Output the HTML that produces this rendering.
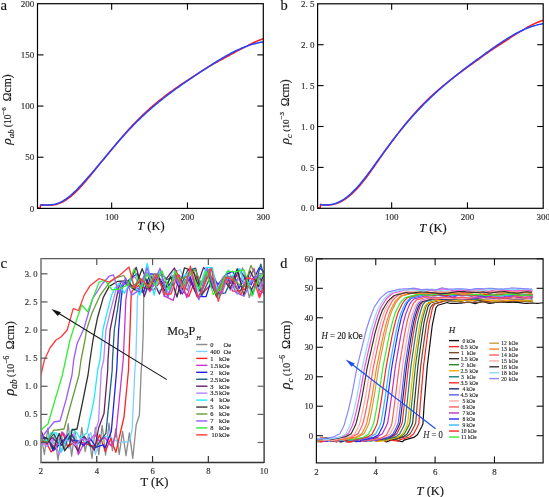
<!DOCTYPE html>
<html><head><meta charset="utf-8"><style>
html,body{margin:0;padding:0;background:#fff;width:549px;height:497px;overflow:hidden}
svg{display:block;will-change:transform}
text{stroke:#333;stroke-width:0.18px}
</style></head><body>
<svg width="549" height="497" viewBox="0 0 549 497">
<polyline points="37.5,208 40.2,208 40.5,204.95 40.5,205.02 41.5,205.07 42.5,205.11 43.5,205.14 44.5,205.17 45.5,205.2 46.5,205.21 47.5,205.21 48.5,205.19 49.5,205.16 50.5,205.1 51.5,205.02 52.5,204.92 53.5,204.79 54.5,204.64 55.5,204.45 56.5,204.22 57.5,203.96 58.5,203.65 59.5,203.31 60.5,202.92 61.5,202.48 62.5,202 63.5,201.47 64.5,200.9 65.5,200.3 66.5,199.65 67.5,198.96 68.5,198.23 69.5,197.47 70.5,196.67 71.5,195.84 72.5,194.97 73.5,194.08 74.5,193.15 75.5,192.19 76.5,191.21 77.5,190.2 78.5,189.16 79.5,188.11 80.5,187.03 81.5,185.93 82.5,184.82 83.5,183.69 84.5,182.54 85.5,181.39 86.5,180.22 87.5,179.04 88.5,177.85 89.5,176.66 90.5,175.45 91.5,174.24 92.5,173.02 93.5,171.8 94.5,170.57 95.5,169.33 96.5,168.1 97.5,166.86 98.5,165.62 99.5,164.38 100.5,163.13 101.5,161.89 102.5,160.65 103.5,159.41 104.5,158.17 105.5,156.93 106.5,155.7 107.5,154.46 108.5,153.23 109.5,152.01 110.5,150.78 111.5,149.56 112.5,148.35 113.5,147.14 114.5,145.93 115.5,144.73 116.5,143.54 117.5,142.34 118.5,141.16 119.5,139.98 120.5,138.81 121.5,137.64 122.5,136.49 123.5,135.34 124.5,134.19 125.5,133.06 126.5,131.93 127.5,130.82 128.5,129.71 129.5,128.61 130.5,127.53 131.5,126.45 132.5,125.38 133.5,124.33 134.5,123.28 135.5,122.25 136.5,121.23 137.5,120.21 138.5,119.21 139.5,118.21 140.5,117.23 141.5,116.26 142.5,115.29 143.5,114.34 144.5,113.39 145.5,112.46 146.5,111.54 147.5,110.62 148.5,109.72 149.5,108.82 150.5,107.93 151.5,107.06 152.5,106.19 153.5,105.33 154.5,104.48 155.5,103.64 156.5,102.81 157.5,101.99 158.5,101.17 159.5,100.36 160.5,99.57 161.5,98.78 162.5,97.99 163.5,97.22 164.5,96.45 165.5,95.69 166.5,94.93 167.5,94.19 168.5,93.44 169.5,92.71 170.5,91.98 171.5,91.26 172.5,90.54 173.5,89.83 174.5,89.12 175.5,88.42 176.5,87.72 177.5,87.03 178.5,86.34 179.5,85.65 180.5,84.97 181.5,84.29 182.5,83.62 183.5,82.94 184.5,82.28 185.5,81.61 186.5,80.94 187.5,80.28 188.5,79.62 189.5,78.96 190.5,78.31 191.5,77.65 192.5,77 193.5,76.35 194.5,75.7 195.5,75.06 196.5,74.41 197.5,73.77 198.5,73.12 199.5,72.48 200.5,71.85 201.5,71.21 202.5,70.58 203.5,69.95 204.5,69.33 205.5,68.71 206.5,68.09 207.5,67.48 208.5,66.88 209.5,66.28 210.5,65.69 211.5,65.11 212.5,64.53 213.5,63.96 214.5,63.4 215.5,62.84 216.5,62.29 217.5,61.74 218.5,61.2 219.5,60.65 220.5,60.11 221.5,59.58 222.5,59.04 223.5,58.5 224.5,57.96 225.5,57.42 226.5,56.87 227.5,56.33 228.5,55.78 229.5,55.23 230.5,54.68 231.5,54.13 232.5,53.58 233.5,53.03 234.5,52.48 235.5,51.93 236.5,51.4 237.5,50.86 238.5,50.34 239.5,49.82 240.5,49.32 241.5,48.82 242.5,48.34 243.5,47.87 244.5,47.42 245.5,46.92 246.5,46.35 247.5,45.79 248.5,45.24 249.5,44.7 250.5,44.18 251.5,43.67 252.5,43.17 253.5,42.68 254.5,42.21 255.5,41.76 256.5,41.32 257.5,40.89 258.5,40.48 259.5,40.09 260.5,39.71 261.5,39.34 262.5,38.99 263.1,38.79" fill="none" stroke="#ff1414" stroke-width="1.5" stroke-linejoin="round" />
<polyline points="40.5,204.65 40.5,204.95 41.5,204.98 42.5,205.01 43.5,205.03 44.5,205.05 45.5,205.05 46.5,205.04 47.5,205.02 48.5,204.97 49.5,204.91 50.5,204.83 51.5,204.72 52.5,204.58 53.5,204.42 54.5,204.22 55.5,203.99 56.5,203.72 57.5,203.41 58.5,203.06 59.5,202.67 60.5,202.23 61.5,201.74 62.5,201.21 63.5,200.63 64.5,200.01 65.5,199.36 66.5,198.66 67.5,197.92 68.5,197.15 69.5,196.35 70.5,195.52 71.5,194.65 72.5,193.76 73.5,192.83 74.5,191.89 75.5,190.92 76.5,189.92 77.5,188.91 78.5,187.87 79.5,186.82 80.5,185.76 81.5,184.68 82.5,183.59 83.5,182.48 84.5,181.37 85.5,180.25 86.5,179.12 87.5,177.99 88.5,176.85 89.5,175.7 90.5,174.55 91.5,173.39 92.5,172.22 93.5,171.05 94.5,169.88 95.5,168.7 96.5,167.52 97.5,166.34 98.5,165.15 99.5,163.96 100.5,162.77 101.5,161.58 102.5,160.39 103.5,159.2 104.5,158 105.5,156.81 106.5,155.61 107.5,154.42 108.5,153.23 109.5,152.04 110.5,150.86 111.5,149.67 112.5,148.49 113.5,147.31 114.5,146.14 115.5,144.97 116.5,143.8 117.5,142.64 118.5,141.49 119.5,140.34 120.5,139.19 121.5,138.06 122.5,136.93 123.5,135.81 124.5,134.69 125.5,133.59 126.5,132.49 127.5,131.4 128.5,130.32 129.5,129.25 130.5,128.2 131.5,127.15 132.5,126.11 133.5,125.08 134.5,124.06 135.5,123.05 136.5,122.06 137.5,121.07 138.5,120.09 139.5,119.12 140.5,118.16 141.5,117.2 142.5,116.26 143.5,115.33 144.5,114.4 145.5,113.48 146.5,112.57 147.5,111.67 148.5,110.78 149.5,109.89 150.5,109.02 151.5,108.15 152.5,107.28 153.5,106.43 154.5,105.58 155.5,104.74 156.5,103.91 157.5,103.08 158.5,102.26 159.5,101.45 160.5,100.64 161.5,99.84 162.5,99.04 163.5,98.25 164.5,97.47 165.5,96.69 166.5,95.92 167.5,95.15 168.5,94.39 169.5,93.64 170.5,92.89 171.5,92.14 172.5,91.4 173.5,90.66 174.5,89.93 175.5,89.2 176.5,88.48 177.5,87.75 178.5,87.04 179.5,86.33 180.5,85.62 181.5,84.91 182.5,84.21 183.5,83.51 184.5,82.82 185.5,82.12 186.5,81.43 187.5,80.74 188.5,80.06 189.5,79.38 190.5,78.7 191.5,78.02 192.5,77.34 193.5,76.67 194.5,76 195.5,75.32 196.5,74.65 197.5,73.99 198.5,73.32 199.5,72.65 200.5,71.99 201.5,71.32 202.5,70.66 203.5,70 204.5,69.34 205.5,68.68 206.5,68.02 207.5,67.37 208.5,66.71 209.5,66.07 210.5,65.42 211.5,64.78 212.5,64.14 213.5,63.5 214.5,62.87 215.5,62.25 216.5,61.62 217.5,61.01 218.5,60.39 219.5,59.79 220.5,59.18 221.5,58.59 222.5,58 223.5,57.41 224.5,56.84 225.5,56.27 226.5,55.7 227.5,55.15 228.5,54.6 229.5,54.05 230.5,53.52 231.5,52.99 232.5,52.48 233.5,51.97 234.5,51.47 235.5,50.98 236.5,50.5 237.5,50.02 238.5,49.56 239.5,49.11 240.5,48.67 241.5,48.23 242.5,47.81 243.5,47.4 244.5,47.01 245.5,46.62 246.5,46.24 247.5,45.88 248.5,45.53 249.5,45.19 250.5,44.86 251.5,44.55 252.5,44.25 253.5,43.96 254.5,43.69 255.5,43.43 256.5,43.19 257.5,42.96 258.5,42.74 259.5,42.54 260.5,42.35 261.5,42.18 262.5,42.03 263.1,41.94" fill="none" stroke="#2244ff" stroke-width="1.5" stroke-linejoin="round" />
<polyline points="317.6,207.9 320.2,207.9 320.5,204.51 320.5,204.57 321.5,204.74 322.5,204.87 323.5,204.98 324.5,205.05 325.5,205.1 326.5,205.11 327.5,205.09 328.5,205.04 329.5,204.96 330.5,204.85 331.5,204.7 332.5,204.51 333.5,204.3 334.5,204.05 335.5,203.76 336.5,203.44 337.5,203.08 338.5,202.69 339.5,202.26 340.5,201.79 341.5,201.29 342.5,200.74 343.5,200.15 344.5,199.53 345.5,198.87 346.5,198.17 347.5,197.44 348.5,196.67 349.5,195.86 350.5,195.02 351.5,194.15 352.5,193.24 353.5,192.29 354.5,191.31 355.5,190.3 356.5,189.26 357.5,188.18 358.5,187.07 359.5,185.93 360.5,184.77 361.5,183.57 362.5,182.34 363.5,181.09 364.5,179.81 365.5,178.51 366.5,177.19 367.5,175.85 368.5,174.49 369.5,173.11 370.5,171.72 371.5,170.31 372.5,168.9 373.5,167.48 374.5,166.05 375.5,164.61 376.5,163.17 377.5,161.73 378.5,160.3 379.5,158.86 380.5,157.43 381.5,156 382.5,154.58 383.5,153.17 384.5,151.76 385.5,150.36 386.5,148.96 387.5,147.58 388.5,146.2 389.5,144.83 390.5,143.47 391.5,142.11 392.5,140.76 393.5,139.43 394.5,138.1 395.5,136.78 396.5,135.46 397.5,134.16 398.5,132.86 399.5,131.57 400.5,130.29 401.5,129.02 402.5,127.76 403.5,126.51 404.5,125.27 405.5,124.03 406.5,122.81 407.5,121.59 408.5,120.39 409.5,119.19 410.5,118.01 411.5,116.83 412.5,115.67 413.5,114.52 414.5,113.38 415.5,112.26 416.5,111.14 417.5,110.04 418.5,108.95 419.5,107.87 420.5,106.8 421.5,105.75 422.5,104.71 423.5,103.69 424.5,102.68 425.5,101.68 426.5,100.69 427.5,99.72 428.5,98.76 429.5,97.81 430.5,96.87 431.5,95.95 432.5,95.03 433.5,94.13 434.5,93.24 435.5,92.35 436.5,91.48 437.5,90.61 438.5,89.75 439.5,88.9 440.5,88.06 441.5,87.22 442.5,86.39 443.5,85.56 444.5,84.74 445.5,83.93 446.5,83.12 447.5,82.31 448.5,81.51 449.5,80.72 450.5,79.93 451.5,79.14 452.5,78.36 453.5,77.58 454.5,76.81 455.5,76.04 456.5,75.28 457.5,74.52 458.5,73.77 459.5,73.02 460.5,72.28 461.5,71.54 462.5,70.8 463.5,70.07 464.5,69.34 465.5,68.62 466.5,67.9 467.5,67.18 468.5,66.46 469.5,65.74 470.5,65.03 471.5,64.31 472.5,63.6 473.5,62.88 474.5,62.17 475.5,61.45 476.5,60.74 477.5,60.02 478.5,59.3 479.5,58.58 480.5,57.85 481.5,57.13 482.5,56.41 483.5,55.68 484.5,54.96 485.5,54.24 486.5,53.52 487.5,52.81 488.5,52.11 489.5,51.41 490.5,50.72 491.5,50.04 492.5,49.36 493.5,48.7 494.5,48.05 495.5,47.4 496.5,46.77 497.5,46.13 498.5,45.51 499.5,44.88 500.5,44.25 501.5,43.62 502.5,42.99 503.5,42.34 504.5,41.69 505.5,41.04 506.5,40.37 507.5,39.7 508.5,39.03 509.5,38.35 510.5,37.67 511.5,37 512.5,36.33 513.5,35.66 514.5,35.01 515.5,34.37 516.5,33.75 517.5,33.14 518.5,32.56 519.5,31.99 520.5,31.44 521.5,30.91 522.5,30.32 523.5,29.67 524.5,29.03 525.5,28.42 526.5,27.82 527.5,27.24 528.5,26.67 529.5,26.13 530.5,25.6 531.5,25.08 532.5,24.58 533.5,24.1 534.5,23.64 535.5,23.19 536.5,22.76 537.5,22.34 538.5,21.94 539.5,21.56 540.5,21.2 541.5,20.85 542.5,20.52 543,20.36" fill="none" stroke="#ff1414" stroke-width="1.5" stroke-linejoin="round" />
<polyline points="320.5,204.21 320.5,204.51 321.5,204.66 322.5,204.79 323.5,204.88 324.5,204.94 325.5,204.97 326.5,204.97 327.5,204.93 328.5,204.86 329.5,204.75 330.5,204.61 331.5,204.44 332.5,204.23 333.5,203.98 334.5,203.7 335.5,203.38 336.5,203.02 337.5,202.63 338.5,202.19 339.5,201.72 340.5,201.21 341.5,200.66 342.5,200.07 343.5,199.44 344.5,198.77 345.5,198.06 346.5,197.32 347.5,196.54 348.5,195.72 349.5,194.87 350.5,193.99 351.5,193.07 352.5,192.12 353.5,191.14 354.5,190.13 355.5,189.09 356.5,188.02 357.5,186.93 358.5,185.8 359.5,184.65 360.5,183.47 361.5,182.27 362.5,181.04 363.5,179.79 364.5,178.53 365.5,177.24 366.5,175.93 367.5,174.61 368.5,173.28 369.5,171.93 370.5,170.57 371.5,169.2 372.5,167.83 373.5,166.45 374.5,165.06 375.5,163.67 376.5,162.27 377.5,160.88 378.5,159.49 379.5,158.1 380.5,156.72 381.5,155.34 382.5,153.96 383.5,152.6 384.5,151.23 385.5,149.88 386.5,148.53 387.5,147.18 388.5,145.85 389.5,144.52 390.5,143.19 391.5,141.88 392.5,140.57 393.5,139.27 394.5,137.98 395.5,136.69 396.5,135.42 397.5,134.15 398.5,132.89 399.5,131.64 400.5,130.4 401.5,129.16 402.5,127.94 403.5,126.73 404.5,125.52 405.5,124.33 406.5,123.15 407.5,121.97 408.5,120.81 409.5,119.66 410.5,118.52 411.5,117.39 412.5,116.27 413.5,115.16 414.5,114.06 415.5,112.96 416.5,111.88 417.5,110.81 418.5,109.75 419.5,108.7 420.5,107.66 421.5,106.62 422.5,105.6 423.5,104.58 424.5,103.57 425.5,102.57 426.5,101.58 427.5,100.6 428.5,99.63 429.5,98.66 430.5,97.7 431.5,96.75 432.5,95.81 433.5,94.88 434.5,93.95 435.5,93.03 436.5,92.12 437.5,91.21 438.5,90.31 439.5,89.42 440.5,88.53 441.5,87.65 442.5,86.78 443.5,85.91 444.5,85.05 445.5,84.2 446.5,83.35 447.5,82.51 448.5,81.67 449.5,80.84 450.5,80.01 451.5,79.19 452.5,78.37 453.5,77.56 454.5,76.76 455.5,75.95 456.5,75.16 457.5,74.36 458.5,73.57 459.5,72.79 460.5,72.01 461.5,71.23 462.5,70.46 463.5,69.69 464.5,68.92 465.5,68.16 466.5,67.4 467.5,66.65 468.5,65.89 469.5,65.14 470.5,64.39 471.5,63.65 472.5,62.91 473.5,62.17 474.5,61.43 475.5,60.69 476.5,59.96 477.5,59.22 478.5,58.49 479.5,57.76 480.5,57.04 481.5,56.31 482.5,55.58 483.5,54.86 484.5,54.14 485.5,53.41 486.5,52.69 487.5,51.97 488.5,51.26 489.5,50.54 490.5,49.83 491.5,49.12 492.5,48.42 493.5,47.72 494.5,47.02 495.5,46.32 496.5,45.64 497.5,44.95 498.5,44.27 499.5,43.6 500.5,42.93 501.5,42.27 502.5,41.61 503.5,40.96 504.5,40.32 505.5,39.68 506.5,39.05 507.5,38.43 508.5,37.82 509.5,37.22 510.5,36.62 511.5,36.03 512.5,35.46 513.5,34.89 514.5,34.33 515.5,33.78 516.5,33.24 517.5,32.72 518.5,32.2 519.5,31.69 520.5,31.2 521.5,30.72 522.5,30.25 523.5,29.79 524.5,29.34 525.5,28.91 526.5,28.49 527.5,28.09 528.5,27.7 529.5,27.32 530.5,26.96 531.5,26.61 532.5,26.28 533.5,25.96 534.5,25.66 535.5,25.37 536.5,25.1 537.5,24.85 538.5,24.61 539.5,24.39 540.5,24.19 541.5,24 542.5,23.84 543,23.76" fill="none" stroke="#2244ff" stroke-width="1.5" stroke-linejoin="round" />
<rect x="37.5" y="3.7" width="225.8" height="204.7" fill="none" stroke="#000" stroke-width="1.2"/>
<rect x="317.6" y="3.8" width="225.6" height="204.5" fill="none" stroke="#000" stroke-width="1.2"/>
<line x1="37.5" y1="157.22" x2="43.5" y2="157.22" stroke="#000" stroke-width="1.1"/>
<line x1="257.3" y1="157.22" x2="263.3" y2="157.22" stroke="#000" stroke-width="1.1"/>
<line x1="37.5" y1="106.05" x2="43.5" y2="106.05" stroke="#000" stroke-width="1.1"/>
<line x1="257.3" y1="106.05" x2="263.3" y2="106.05" stroke="#000" stroke-width="1.1"/>
<line x1="37.5" y1="54.88" x2="43.5" y2="54.88" stroke="#000" stroke-width="1.1"/>
<line x1="257.3" y1="54.88" x2="263.3" y2="54.88" stroke="#000" stroke-width="1.1"/>
<line x1="111.66" y1="208.4" x2="111.66" y2="202.4" stroke="#000" stroke-width="1.1"/>
<line x1="111.66" y1="3.7" x2="111.66" y2="9.7" stroke="#000" stroke-width="1.1"/>
<line x1="187.47" y1="208.4" x2="187.47" y2="202.4" stroke="#000" stroke-width="1.1"/>
<line x1="187.47" y1="3.7" x2="187.47" y2="9.7" stroke="#000" stroke-width="1.1"/>
<text x="34.2" y="211.5" font-size="9" text-anchor="end" fill="#333" font-family="Liberation Serif" >0</text>
<text x="34.2" y="160.32" font-size="9" text-anchor="end" fill="#333" font-family="Liberation Serif" >50</text>
<text x="34.2" y="109.15" font-size="9" text-anchor="end" fill="#333" font-family="Liberation Serif" >100</text>
<text x="34.2" y="57.98" font-size="9" text-anchor="end" fill="#333" font-family="Liberation Serif" >150</text>
<text x="34.2" y="6.8" font-size="9" text-anchor="end" fill="#333" font-family="Liberation Serif" >200</text>
<text x="111.66" y="220" font-size="9" text-anchor="middle" fill="#333" font-family="Liberation Serif" >100</text>
<text x="187.47" y="220" font-size="9" text-anchor="middle" fill="#333" font-family="Liberation Serif" >200</text>
<text x="263.28" y="220" font-size="9" text-anchor="middle" fill="#333" font-family="Liberation Serif" >300</text>
<line x1="317.6" y1="167.4" x2="323.6" y2="167.4" stroke="#000" stroke-width="1.1"/>
<line x1="537.2" y1="167.4" x2="543.2" y2="167.4" stroke="#000" stroke-width="1.1"/>
<line x1="317.6" y1="126.5" x2="323.6" y2="126.5" stroke="#000" stroke-width="1.1"/>
<line x1="537.2" y1="126.5" x2="543.2" y2="126.5" stroke="#000" stroke-width="1.1"/>
<line x1="317.6" y1="85.6" x2="323.6" y2="85.6" stroke="#000" stroke-width="1.1"/>
<line x1="537.2" y1="85.6" x2="543.2" y2="85.6" stroke="#000" stroke-width="1.1"/>
<line x1="317.6" y1="44.7" x2="323.6" y2="44.7" stroke="#000" stroke-width="1.1"/>
<line x1="537.2" y1="44.7" x2="543.2" y2="44.7" stroke="#000" stroke-width="1.1"/>
<line x1="391.66" y1="208.3" x2="391.66" y2="202.3" stroke="#000" stroke-width="1.1"/>
<line x1="391.66" y1="3.8" x2="391.66" y2="9.8" stroke="#000" stroke-width="1.1"/>
<line x1="467.47" y1="208.3" x2="467.47" y2="202.3" stroke="#000" stroke-width="1.1"/>
<line x1="467.47" y1="3.8" x2="467.47" y2="9.8" stroke="#000" stroke-width="1.1"/>
<text x="314.4" y="211.4" font-size="9" text-anchor="end" fill="#333" font-family="Liberation Serif" style="white-space:pre">0.&#160;0</text>
<text x="314.4" y="170.5" font-size="9" text-anchor="end" fill="#333" font-family="Liberation Serif" style="white-space:pre">0.&#160;5</text>
<text x="314.4" y="129.6" font-size="9" text-anchor="end" fill="#333" font-family="Liberation Serif" style="white-space:pre">1.&#160;0</text>
<text x="314.4" y="88.7" font-size="9" text-anchor="end" fill="#333" font-family="Liberation Serif" style="white-space:pre">1.&#160;5</text>
<text x="314.4" y="47.8" font-size="9" text-anchor="end" fill="#333" font-family="Liberation Serif" style="white-space:pre">2.&#160;0</text>
<text x="314.4" y="6.9" font-size="9" text-anchor="end" fill="#333" font-family="Liberation Serif" style="white-space:pre">2.&#160;5</text>
<text x="391.66" y="220" font-size="9" text-anchor="middle" fill="#333" font-family="Liberation Serif" >100</text>
<text x="467.47" y="220" font-size="9" text-anchor="middle" fill="#333" font-family="Liberation Serif" >200</text>
<text x="543.28" y="220" font-size="9" text-anchor="middle" fill="#333" font-family="Liberation Serif" >300</text>
<clipPath id="clipc"><rect x="41" y="258.6" width="223.1" height="203.9"/></clipPath>
<g clip-path="url(#clipc)">
<polyline points="41,434.33 44.4,454.49 47.8,428.18 51.2,448.37 54.6,434.08 58,460.07 61.4,435.08 64.8,449.69 68.2,423.67 71.6,456.08 75,431.2 78.4,454.65 81.8,427.38 85.2,451.58 88.6,434.21 92,458.24 95.4,427.29 98.8,454.66 102.2,425.38 105.6,455.14 109,423.25 112.4,450.66 115.8,428.8 119.2,454.29 122.6,431.41 126,455.69 129.4,432.94 132.8,458.43 136.2,424.72 139.4,415.3 141.2,370 142.2,360 143.3,330 143.9,282 149.29,290.54 157.92,273.1 164.13,296.62 170.33,276.16 178.27,274.69 187.26,290.44 192.88,269.16 199.49,285.25 207.93,272.46 214.11,284.87 219.71,295.27 225.27,276.9 233.75,287.04 242.68,267.83 249.28,297.44 256.19,277.57 263.6,293.26" fill="none" stroke="#8a8a8a" stroke-width="1.3" stroke-linejoin="round" />
<polyline points="41,443.08 47.07,440.08 52.67,443.62 59.41,440.74 64,433.59 68.91,448.54 73.77,432.66 79.16,444.48 85.84,441.68 90.73,432.61 95.43,454.3 100.51,437.42 105.3,436.32 109.5,437 118.6,442.5 129.4,441.6 132.1,429.8 134.9,370 135.8,360 136.7,330 137.3,300.2 137.9,294.2 140,285 145.97,293.01 152.58,275.47 158.38,291.86 166.33,284.93 172.33,272.49 180.35,269.74 188.61,288.74 195.86,277 202.19,292.72 208.71,269.82 216.57,291.26 222.4,288.55 228.45,269.81 237.1,294.58 243.79,270.5 252.36,293.67 260.6,274.73 268.04,295.4" fill="none" stroke="#7fd0ff" stroke-width="1.3" stroke-linejoin="round" />
<polyline points="41,441.57 45.77,441.35 51.2,452.04 57.25,444.17 62.82,432.6 67.66,447.28 73.2,442.87 78.95,441.78 84.73,443.32 89.25,445.09 94.9,446.05 99.51,434.76 105.35,451.46 110.9,438.21 115.8,452.4 124,417 128.5,370 128.8,360 130,330 131.2,294.2 132.4,290.5 138.5,285.7 145.12,288.03 153.31,290.11 162.2,279.89 169.48,285.62 176.33,270.65 181.99,290.33 188.77,296.42 196.88,275.89 202.68,293.29 209.75,285.64 218.64,292.32 224.78,276.92 232.7,291.03 238.78,290.82 245.99,288.65 252.89,278.4 260.43,291.26 269.2,295.2" fill="none" stroke="#ff2020" stroke-width="1.3" stroke-linejoin="round" />
<polyline points="41,443.35 45.6,442.97 50.72,442.96 56.39,449.29 61.98,431.81 68.12,439.07 72.65,434.43 78.48,454.3 84.02,443.33 88.56,442.46 94.56,434.39 99.23,441.07 104.66,437.49 111.3,446 115.8,435.2 122.2,370 123.2,360 124.6,330 125.8,300.2 127.6,288.1 131,285 138.66,289.12 144.17,275.61 149.85,291.76 158.7,276.03 164.95,296.45 173.33,300.43 179.52,275.23 186.82,297.69 192.49,277.52 199.41,288.12 205.02,276.3 210.95,267.36 218.49,288.31 225.36,280.65 231.84,277.21 238.37,275.73 246.02,286.51 254,268.45 259.96,296.47 267.85,275.61" fill="none" stroke="#cc33cc" stroke-width="1.3" stroke-linejoin="round" />
<polyline points="41,438.06 47.84,438.35 53.31,450.69 60.13,443.9 66.63,436.8 72.25,440.05 78.78,441.07 83.66,445.82 89.73,438.12 96.31,447.23 103.22,444.95 105,448 111.3,431.6 116.7,370 117.2,360 118.6,330 121,300.2 122.8,285.7 127.6,280.9 137.3,273.6 143.27,292.99 149.91,273.94 157.02,274.35 165.86,288.4 174.79,278.7 182.28,293.92 190,276.63 197.16,296.68 206.11,296.57 212.19,277.8 218.22,284.26 225.91,274.64 232.75,271.26 239.03,288.32 245.7,276.42 251.21,284.8 259.26,267.59 265.61,273.74 271.98,292.72" fill="none" stroke="#2222e6" stroke-width="1.3" stroke-linejoin="round" />
<polyline points="41,439.36 46.96,442.59 53.71,433.79 60.66,445.7 65.56,442.76 71.54,435.21 77.72,443.42 83.82,436.83 89.99,446.01 95.77,447.53 100.62,440.62 105.9,433.4 112.2,370 112.5,360 114.3,330 118,306.2 121,285.7 125.2,282 132.83,288.49 140.82,292.68 146.68,273.28 153.26,285.51 160.4,272.33 166.91,279.5 172.97,277.11 181.42,284.64 187.55,270.61 195.68,268.2 201.69,295.89 208.94,280.01 216.53,294.49 225.32,292.91 231.11,280.13 239.37,292.5 246.42,279.97 253.13,293.9 260.76,264.06 266.93,287.09" fill="none" stroke="#1f5f80" stroke-width="1.3" stroke-linejoin="round" />
<polyline points="41,430.57 46.7,443.68 52.11,437.73 56.85,441.96 61.77,444.99 68.45,433.89 73.46,443.37 78.13,450.99 83.54,435.58 88.25,441.64 94.46,450.32 98.6,428 104,413.5 107.7,370 108,360 110.1,330 114.9,306.2 118.5,288.1 121,282 128.7,285.59 136.18,267.28 144.34,296.58 150.91,275.97 159.4,294.04 166.36,278.53 174.58,267.93 180.53,293.76 187.93,276.14 195.11,291.51 203.57,267.39 212.13,277.95 218.7,297.37 226.68,278.01 232.56,284.7 239.01,269.21 244.63,277.32 251.36,289.53 258.98,275.54 267.09,296.8" fill="none" stroke="#6a1f6a" stroke-width="1.3" stroke-linejoin="round" />
<polyline points="41,443.38 47.41,446.35 52.47,439.08 59.17,454.3 65.71,440.18 70.76,441.36 75.45,445.35 81.76,438.32 87.02,440.54 92.02,437.99 94,436 98.6,420.7 101.3,370 103.7,360 105.9,330 110.7,309.9 116.1,289.3 120.4,281.5 127.11,285.71 134.59,276.34 140.5,286.51 146.86,272.11 155.24,285.33 162.2,279.25 169.07,294.68 175.39,276.98 182.46,292.17 190.76,273.02 199.34,287.88 208.02,272.58 215.84,292.08 223.27,276.28 230.44,290.34 238.29,279.25 245.88,285.14 252.96,280.54 260.59,287.11 267.21,274.36" fill="none" stroke="#b585ff" stroke-width="1.3" stroke-linejoin="round" />
<polyline points="41,439.43 45.73,441.13 51.05,432.96 56.58,433 61.33,452.21 66.1,440.5 72.32,428.69 77.22,433.28 80,438 87,433 94,400 97.7,370 100,360 102.9,330 107.1,312.3 111.9,294.2 114.9,288.1 119.2,283.3 124.47,293.5 131.35,279.27 139.87,295.18 147.22,263.48 154.15,295.02 159.69,271.93 167.39,290.23 174.72,277.53 181.89,277.45 190.42,271.52 198.3,291.87 206.02,267.45 212.29,267.75 218.92,297.98 224.89,280.91 233.21,275 239.76,268.76 245.42,286.24 252.83,278.62 259.05,287.76 267.19,294.38" fill="none" stroke="#22e8ff" stroke-width="1.3" stroke-linejoin="round" />
<polyline points="41,435.71 47.66,438.84 53.78,448.79 59.19,433.4 64.57,450.77 69.93,443.59 72,430 77,429 83,400 88,375 90,360 93,340 97.5,317.8 103.3,297.4 109.2,286.4 117.9,281.3 128.1,280.6 134.25,289.74 142.2,268.65 149.41,288.82 157.46,275.17 164.42,290.81 170.56,276.69 176.98,297.03 184.41,267.99 193,270.83 200.41,292.15 208.26,274.2 216.57,296.99 223.07,279.2 230.41,288.62 237.21,268.77 243.97,295.9 249.79,270.48 258.25,286.52 267.14,268.39" fill="none" stroke="#333333" stroke-width="1.3" stroke-linejoin="round" />
<polyline points="41,438.87 46.95,442.44 53.52,430.24 57,430 64,429 72,400 79,375 81,360 85,340 86.5,330 92,313 100,295.4 109.2,282.8 116.4,277.7 123.7,275.5 131.67,288.24 140.65,278.44 147.55,287.6 154.43,273.92 161.89,275.64 167.55,296.72 174.4,276.2 180.91,279.14 187.92,275.95 195.2,269.6 202.72,287.31 209.14,269.25 215.86,294.11 223.9,277.68 230.83,276.5 238.54,284.02 244.14,286.78 250.99,265.4 259.77,284.27 265.27,276.98" fill="none" stroke="#6b9a3a" stroke-width="1.3" stroke-linejoin="round" />
<polyline points="41,439.25 45,433 54,422 60,421 66,400 72,375 73.7,360 77,344 84.1,328 92.5,299 101.9,284.2 109.2,276.2 113.5,274.8 118.6,293.17 125.57,277.67 131.64,295.15 139.51,289.84 147.1,267.77 152.66,286.66 159.95,268.17 167.9,297.7 173.89,275.59 182.31,286.84 190.22,270.22 198.93,299.78 207.15,268.3 214.3,289.18 222.09,293.52 227.79,275.47 236.06,292.71 244.06,296.06 252.4,279.25 258.73,275.28 264.34,295.19" fill="none" stroke="#9a5cff" stroke-width="1.3" stroke-linejoin="round" />
<polyline points="41,430 43,428 48,424 55,400 62.4,375 65.6,360 70,340 73.2,330 81.7,305 87.7,311.7 92.5,299 99.2,282.1 105,280 112.07,289.94 120.06,288.79 127.74,284.89 134.27,268.6 140.85,288.74 146.78,273.74 155.27,285.31 161.77,270.54 169.17,289.81 175.21,271.37 182.8,286.92 190.71,271.93 199.13,288.97 206.2,271.03 213.26,294.37 220.19,288.89 227.15,271.19 235.29,271.91 244.01,269.92 252.1,296.13 259.5,276.38 267.91,272.12" fill="none" stroke="#33ee33" stroke-width="1.3" stroke-linejoin="round" />
<polyline points="41,375 44.4,360 50,348 56,340 61,337 67.2,330 73.2,308.6 78.6,310.5 84.1,295.4 90.1,285.7 99.2,278.5 109,282 120,275 129,267 134.36,288.04 140.92,279.22 149.68,287.09 156.06,274.07 164.88,293.79 170.96,294.18 177.79,274.26 184.75,290.1 190.41,266.03 197.83,297.65 203.79,286.4 211.34,268.81 218.32,301.3 225.99,277.4 232.69,279.73 240.9,294.61 246.85,277.87 253.78,279.37 259.38,297.72 267.8,274.63" fill="none" stroke="#ff3a3a" stroke-width="1.3" stroke-linejoin="round" />
</g>
<line x1="41" y1="258.6" x2="264.1" y2="258.6" stroke="#5a5a5a" stroke-width="1.3"/>
<line x1="264.1" y1="258" x2="264.1" y2="463.1" stroke="#2a2a2a" stroke-width="1.3"/>
<line x1="40.4" y1="462.5" x2="264.1" y2="462.5" stroke="#333" stroke-width="1.3"/>
<line x1="41" y1="258" x2="41" y2="463.1" stroke="#7a7a7a" stroke-width="1.6"/>
<line x1="41" y1="414.38" x2="47.5" y2="414.38" stroke="#555" stroke-width="1.2"/>
<line x1="257.6" y1="414.38" x2="264.1" y2="414.38" stroke="#666" stroke-width="1.2"/>
<line x1="41" y1="386.27" x2="47.5" y2="386.27" stroke="#555" stroke-width="1.2"/>
<line x1="257.6" y1="386.27" x2="264.1" y2="386.27" stroke="#666" stroke-width="1.2"/>
<line x1="41" y1="358.15" x2="47.5" y2="358.15" stroke="#555" stroke-width="1.2"/>
<line x1="257.6" y1="358.15" x2="264.1" y2="358.15" stroke="#666" stroke-width="1.2"/>
<line x1="41" y1="330.04" x2="47.5" y2="330.04" stroke="#555" stroke-width="1.2"/>
<line x1="257.6" y1="330.04" x2="264.1" y2="330.04" stroke="#666" stroke-width="1.2"/>
<line x1="41" y1="301.93" x2="47.5" y2="301.93" stroke="#555" stroke-width="1.2"/>
<line x1="257.6" y1="301.93" x2="264.1" y2="301.93" stroke="#666" stroke-width="1.2"/>
<line x1="41" y1="273.81" x2="47.5" y2="273.81" stroke="#555" stroke-width="1.2"/>
<line x1="257.6" y1="273.81" x2="264.1" y2="273.81" stroke="#666" stroke-width="1.2"/>
<line x1="41" y1="442.5" x2="47.5" y2="442.5" stroke="#555" stroke-width="1.2"/>
<line x1="257.6" y1="442.5" x2="264.1" y2="442.5" stroke="#666" stroke-width="1.2"/>
<line x1="96.78" y1="462.5" x2="96.78" y2="456" stroke="#333" stroke-width="1.2"/>
<line x1="96.78" y1="258.6" x2="96.78" y2="265.1" stroke="#555" stroke-width="1.2"/>
<line x1="152.56" y1="462.5" x2="152.56" y2="456" stroke="#333" stroke-width="1.2"/>
<line x1="152.56" y1="258.6" x2="152.56" y2="265.1" stroke="#555" stroke-width="1.2"/>
<line x1="208.34" y1="462.5" x2="208.34" y2="456" stroke="#333" stroke-width="1.2"/>
<line x1="208.34" y1="258.6" x2="208.34" y2="265.1" stroke="#555" stroke-width="1.2"/>
<text x="37.6" y="445.5" font-size="8.6" text-anchor="end" fill="#333" font-family="Liberation Serif" style="white-space:pre">0.&#160;0</text>
<text x="37.6" y="417.38" font-size="8.6" text-anchor="end" fill="#333" font-family="Liberation Serif" style="white-space:pre">0.&#160;5</text>
<text x="37.6" y="389.27" font-size="8.6" text-anchor="end" fill="#333" font-family="Liberation Serif" style="white-space:pre">1.&#160;0</text>
<text x="37.6" y="361.15" font-size="8.6" text-anchor="end" fill="#333" font-family="Liberation Serif" style="white-space:pre">1.&#160;5</text>
<text x="37.6" y="333.04" font-size="8.6" text-anchor="end" fill="#333" font-family="Liberation Serif" style="white-space:pre">2.&#160;0</text>
<text x="37.6" y="304.93" font-size="8.6" text-anchor="end" fill="#333" font-family="Liberation Serif" style="white-space:pre">2.&#160;5</text>
<text x="37.6" y="276.81" font-size="8.6" text-anchor="end" fill="#333" font-family="Liberation Serif" style="white-space:pre">3.&#160;0</text>
<text x="41" y="474.3" font-size="8.6" text-anchor="middle" fill="#333" font-family="Liberation Serif" >2</text>
<text x="96.78" y="474.3" font-size="8.6" text-anchor="middle" fill="#333" font-family="Liberation Serif" >4</text>
<text x="152.56" y="474.3" font-size="8.6" text-anchor="middle" fill="#333" font-family="Liberation Serif" >6</text>
<text x="208.34" y="474.3" font-size="8.6" text-anchor="middle" fill="#333" font-family="Liberation Serif" >8</text>
<text x="264.12" y="474.3" font-size="8.6" text-anchor="middle" fill="#333" font-family="Liberation Serif" >10</text>
<text x="167.2" y="334.9" font-size="12.3" fill="#111" font-family="Liberation Serif" textLength="28" lengthAdjust="spacingAndGlyphs">Mo<tspan font-size="9" dy="3.3">3</tspan><tspan dy="-3.3">P</tspan></text>
<text x="196.3" y="339.9" font-size="6.6" text-anchor="start" fill="#333" font-family="Liberation Serif" font-style="italic">H</text>
<line x1="196.2" y1="344.5" x2="207.4" y2="344.5" stroke="#8a8a8a" stroke-width="1.4"/>
<text x="210.3" y="346.8" font-size="6.4" text-anchor="start" fill="#222" font-family="Liberation Serif" >0</text>
<text x="223.6" y="346.8" font-size="6.4" text-anchor="start" fill="#222" font-family="Liberation Serif" >Oe</text>
<line x1="196.2" y1="351.45" x2="207.4" y2="351.45" stroke="#7fd0ff" stroke-width="1.4"/>
<text x="210.3" y="353.75" font-size="6.4" text-anchor="start" fill="#222" font-family="Liberation Serif" >400</text>
<text x="223.6" y="353.75" font-size="6.4" text-anchor="start" fill="#222" font-family="Liberation Serif" >Oe</text>
<line x1="196.2" y1="358.4" x2="207.4" y2="358.4" stroke="#ff2020" stroke-width="1.4"/>
<text x="210.3" y="360.7" font-size="6.4" text-anchor="start" fill="#222" font-family="Liberation Serif" >1</text>
<text x="218.9" y="360.7" font-size="6.4" text-anchor="start" fill="#222" font-family="Liberation Serif" >kOe</text>
<line x1="196.2" y1="365.35" x2="207.4" y2="365.35" stroke="#cc33cc" stroke-width="1.4"/>
<text x="210.3" y="367.65" font-size="6.4" text-anchor="start" fill="#222" font-family="Liberation Serif" >1.5</text>
<text x="218.9" y="367.65" font-size="6.4" text-anchor="start" fill="#222" font-family="Liberation Serif" >kOe</text>
<line x1="196.2" y1="372.3" x2="207.4" y2="372.3" stroke="#2222e6" stroke-width="1.4"/>
<text x="210.3" y="374.6" font-size="6.4" text-anchor="start" fill="#222" font-family="Liberation Serif" >2</text>
<text x="218.9" y="374.6" font-size="6.4" text-anchor="start" fill="#222" font-family="Liberation Serif" >kOe</text>
<line x1="196.2" y1="379.25" x2="207.4" y2="379.25" stroke="#1f5f80" stroke-width="1.4"/>
<text x="210.3" y="381.55" font-size="6.4" text-anchor="start" fill="#222" font-family="Liberation Serif" >2.5</text>
<text x="218.9" y="381.55" font-size="6.4" text-anchor="start" fill="#222" font-family="Liberation Serif" >kOe</text>
<line x1="196.2" y1="386.2" x2="207.4" y2="386.2" stroke="#6a1f6a" stroke-width="1.4"/>
<text x="210.3" y="388.5" font-size="6.4" text-anchor="start" fill="#222" font-family="Liberation Serif" >3</text>
<text x="218.9" y="388.5" font-size="6.4" text-anchor="start" fill="#222" font-family="Liberation Serif" >kOe</text>
<line x1="196.2" y1="393.15" x2="207.4" y2="393.15" stroke="#b585ff" stroke-width="1.4"/>
<text x="210.3" y="395.45" font-size="6.4" text-anchor="start" fill="#222" font-family="Liberation Serif" >3.5</text>
<text x="218.9" y="395.45" font-size="6.4" text-anchor="start" fill="#222" font-family="Liberation Serif" >kOe</text>
<line x1="196.2" y1="400.1" x2="207.4" y2="400.1" stroke="#22e8ff" stroke-width="1.4"/>
<text x="210.3" y="402.4" font-size="6.4" text-anchor="start" fill="#222" font-family="Liberation Serif" >4</text>
<text x="219.3" y="402.4" font-size="6.4" text-anchor="start" fill="#222" font-family="Liberation Serif" >kOe</text>
<line x1="196.2" y1="407.05" x2="207.4" y2="407.05" stroke="#333333" stroke-width="1.4"/>
<text x="210.3" y="409.35" font-size="6.4" text-anchor="start" fill="#222" font-family="Liberation Serif" >5</text>
<text x="218.9" y="409.35" font-size="6.4" text-anchor="start" fill="#222" font-family="Liberation Serif" >kOe</text>
<line x1="196.2" y1="414" x2="207.4" y2="414" stroke="#6b9a3a" stroke-width="1.4"/>
<text x="210.3" y="416.3" font-size="6.4" text-anchor="start" fill="#222" font-family="Liberation Serif" >6</text>
<text x="218.9" y="416.3" font-size="6.4" text-anchor="start" fill="#222" font-family="Liberation Serif" >kOe</text>
<line x1="196.2" y1="420.95" x2="207.4" y2="420.95" stroke="#9a5cff" stroke-width="1.4"/>
<text x="210.3" y="423.25" font-size="6.4" text-anchor="start" fill="#222" font-family="Liberation Serif" >7</text>
<text x="218.9" y="423.25" font-size="6.4" text-anchor="start" fill="#222" font-family="Liberation Serif" >kOe</text>
<line x1="196.2" y1="427.9" x2="207.4" y2="427.9" stroke="#33ee33" stroke-width="1.4"/>
<text x="210.3" y="430.2" font-size="6.4" text-anchor="start" fill="#222" font-family="Liberation Serif" >8</text>
<text x="218.9" y="430.2" font-size="6.4" text-anchor="start" fill="#222" font-family="Liberation Serif" >kOe</text>
<line x1="196.2" y1="434.85" x2="207.4" y2="434.85" stroke="#ff3a3a" stroke-width="1.4"/>
<text x="211.5" y="437.15" font-size="6.4" text-anchor="start" fill="#222" font-family="Liberation Serif" >10</text>
<text x="218.9" y="437.15" font-size="6.4" text-anchor="start" fill="#222" font-family="Liberation Serif" >kOe</text>
<line x1="166.8" y1="379.6" x2="57" y2="312.3" stroke="#111" stroke-width="1.05"/>
<polygon points="51.4,309 60.9,312.3 57.8,315.9" fill="#111"/>
<clipPath id="clipd"><rect x="316.4" y="258.8" width="226.7" height="204.1"/></clipPath>
<g clip-path="url(#clipd)">
<polyline points="316.4,441.42 318.4,440.83 320.4,440.25 322.4,439.96 324.4,439.97 326.4,439.97 328.4,440.48 330.4,440.98 332.4,441.18 334.4,441.06 336.4,440.94 338.4,441.43 340.4,441.91 342.4,441.68 344.4,440.71 346.4,439.75 348.4,440.15 350.4,440.54 352.4,440.3 354.4,439.42 356.4,438.54 358.4,438.58 360.4,438.63 362.4,438.76 364.4,438.99 366.4,439.22 368.4,439.26 370.4,439.3 372.4,439.45 374.4,439.72 376.4,439.98 378.4,439.64 380.4,439.29 382.4,439.68 384.4,440.81 386.4,441.94 388.4,441.13 390.4,440.32 392.4,439.88 394.4,439.8 396.4,439.73 398.4,440.56 400.4,441.39 402.4,441.72 404,440.2 413.78,437.45 417.42,434.69 418.89,431.94 420.37,429.18 421.83,426.43 422.93,423.68 423.11,420.92 423.28,418.17 423.45,415.41 423.62,412.66 423.79,409.91 423.96,407.15 424.15,404.4 424.37,401.64 424.6,398.89 424.82,396.14 425.05,393.38 425.27,390.63 425.5,387.87 425.72,385.12 425.95,382.37 426.17,379.61 426.4,376.86 426.62,374.1 426.85,371.35 427.07,368.6 427.3,365.84 427.64,363.09 427.97,360.33 428.31,357.58 428.65,354.83 428.98,352.07 429.32,349.32 429.66,346.56 429.99,343.81 430.33,341.06 430.67,338.3 431,335.55 431.34,332.79 431.68,330.04 432.01,327.29 432.39,324.53 432.95,321.78 433.52,319.02 434.09,316.27 434.66,313.52 435.23,310.76 435.8,308.01 437.79,305.25 447.3,302.5 449.3,303.25 451.3,303.35 453.3,303.44 455.3,303.43 457.3,303.31 459.3,303.19 461.3,303.07 463.3,302.77 465.3,302.48 467.3,302.18 469.3,302.26 471.3,302.71 473.3,303.16 475.3,303.61 477.3,302.97 479.3,302.33 481.3,301.69 483.3,301.66 485.3,302.26 487.3,302.86 489.3,303.45 491.3,303.13 493.3,302.8 495.3,302.47 497.3,302.28 499.3,302.22 501.3,302.17 503.3,302.11 505.3,302.2 507.3,302.3 509.3,302.39 511.3,302.41 513.3,302.36 515.3,302.31 517.3,302.26 519.3,302.58 521.3,302.89 523.3,303.21 525.3,303.35 527.3,303.31 529.3,303.27 531.3,303.23 533.3,303.21 535.3,303.27 537.3,303.33 539.3,303.23 541.3,302.98 543.3,302.73" fill="none" stroke="#111111" stroke-width="1.2" stroke-linejoin="round" />
<polyline points="316.4,440.77 318.4,439.65 320.4,438.53 322.4,438.26 324.4,438.82 326.4,439.39 328.4,439 330.4,438.6 332.4,438.97 334.4,440.09 336.4,441.21 338.4,441.32 340.4,441.42 342.4,440.97 344.4,439.97 346.4,438.96 348.4,439.89 350.4,440.83 352.4,440.74 354.4,439.63 356.4,438.52 358.4,439.37 360.4,440.22 362.4,440.28 364.4,439.54 366.4,438.81 368.4,439.12 370.4,439.43 372.4,439.72 374.4,439.98 376.4,440.25 378.4,439.83 380.4,439.42 382.4,439.09 384.4,438.84 386.4,438.6 388.4,439.22 390.4,439.84 392.4,440.32 394.4,440.65 396.4,440.98 398.4,441.3 399.57,439.8 409.66,437.03 413.39,434.26 414.87,431.48 416.35,428.71 417.81,425.94 418.9,423.17 419.1,420.39 419.3,417.62 419.5,414.85 419.7,412.07 419.89,409.3 420.09,406.53 420.29,403.75 420.54,400.98 420.78,398.21 421.02,395.44 421.26,392.66 421.5,389.89 421.74,387.12 421.98,384.34 422.23,381.57 422.47,378.8 422.71,376.02 422.95,373.25 423.19,370.48 423.44,367.7 423.69,364.93 424.04,362.16 424.4,359.39 424.75,356.61 425.1,353.84 425.46,351.07 425.81,348.29 426.17,345.52 426.52,342.75 426.88,339.97 427.24,337.2 427.6,334.43 427.96,331.66 428.33,328.88 428.7,326.11 429.1,323.34 429.7,320.56 430.3,317.79 430.93,315.02 431.56,312.24 432.19,309.47 432.89,306.7 434.96,303.93 444.59,301.15 446.59,300.68 448.59,300.64 450.59,300.59 452.59,300.51 454.59,300.38 456.59,300.26 458.59,300.14 460.59,300.22 462.59,300.31 464.59,300.4 466.59,300.38 468.59,300.26 470.59,300.14 472.59,300.01 474.59,300.17 476.59,300.32 478.59,300.47 480.59,300.71 482.59,301.04 484.59,301.37 486.59,301.69 488.59,301.28 490.59,300.86 492.59,300.44 494.59,300.41 496.59,300.77 498.59,301.14 500.59,301.5 502.59,301.26 504.59,301.02 506.59,300.78 508.59,300.64 510.59,300.59 512.59,300.55 514.59,300.5 516.59,300.68 518.59,300.85 520.59,301.03 522.59,301.1 524.59,301.06 526.59,301.03 528.59,301 530.59,301.01 532.59,301.01" fill="none" stroke="#ff2020" stroke-width="1.2" stroke-linejoin="round" />
<polyline points="316.4,440.9 318.4,439.47 320.4,438.04 322.4,437.38 324.4,437.5 326.4,437.61 328.4,438.42 330.4,439.23 332.4,439.42 334.4,438.99 336.4,438.56 338.4,438.46 340.4,438.35 342.4,438.88 344.4,440.06 346.4,441.24 348.4,440.15 350.4,439.06 352.4,439.01 354.4,439.99 356.4,440.97 358.4,440.49 360.4,440 362.4,439.29 364.4,438.35 366.4,437.41 368.4,437.79 370.4,438.16 372.4,438.2 374.4,437.9 376.4,437.59 378.4,438.33 380.4,439.07 382.4,439.74 384.4,440.33 386.4,440.92 388.4,439.55 390.4,438.18 392.4,437.48 394.4,437.44 396.09,439.29 406.41,436.53 410.24,433.78 411.71,431.02 413.19,428.27 414.65,425.51 415.73,422.75 415.95,420 416.18,417.24 416.4,414.49 416.62,411.73 416.84,408.98 417.05,406.22 417.27,403.47 417.53,400.71 417.79,397.95 418.04,395.2 418.3,392.44 418.55,389.69 418.8,386.93 419.05,384.18 419.31,381.42 419.56,378.66 419.81,375.91 420.07,373.15 420.33,370.4 420.59,367.64 420.86,364.89 421.23,362.13 421.6,359.38 421.96,356.62 422.33,353.86 422.7,351.11 423.07,348.35 423.44,345.6 423.8,342.84 424.17,340.09 424.55,337.33 424.94,334.58 425.32,331.82 425.71,329.06 426.1,326.31 426.54,323.55 427.15,320.8 427.78,318.04 428.46,315.29 429.14,312.53 429.83,309.77 430.63,307.02 432.75,304.26 442.49,301.51 444.49,300.55 446.49,300.71 448.49,300.88 450.49,300.93 452.49,300.85 454.49,300.78 456.49,300.71 458.49,301.26 460.49,301.81 462.49,302.36 464.49,302.57 466.49,302.43 468.49,302.3 470.49,302.17 472.49,302.28 474.49,302.39 476.49,302.51 478.49,302.44 480.49,302.19 482.49,301.95 484.49,301.7 486.49,301.86 488.49,302.03 490.49,302.2 492.49,302.24 494.49,302.16 496.49,302.09 498.49,302.01 500.49,301.72 502.49,301.44 504.49,301.15 506.49,301.13 508.49,301.38 510.49,301.63 512.49,301.87 514.49,301.63 516.49,301.38 518.49,301.13 520.49,301.06 522.49,301.18 524.49,301.3 526.49,301.42 528.49,301.67 530.49,301.91 532.49,302.16" fill="none" stroke="#7a4a2a" stroke-width="1.2" stroke-linejoin="round" />
<polyline points="316.4,440.86 318.4,440.24 320.4,439.62 322.4,439.07 324.4,438.61 326.4,438.15 328.4,438.38 330.4,438.61 332.4,438.69 334.4,438.64 336.4,438.58 338.4,439.56 340.4,440.55 342.4,440.7 344.4,440.02 346.4,439.34 348.4,440.06 350.4,440.78 352.4,440.77 354.4,440.05 356.4,439.33 358.4,440.08 360.4,440.84 362.4,441.19 364.4,441.16 366.4,441.12 368.4,440.56 370.4,440 372.4,439.9 374.4,440.25 376.4,440.6 378.4,439.8 380.4,439 382.4,438.46 384.4,438.19 386.4,437.92 388.4,438.7 390.4,439.48 392.4,439.43 392.75,439.45 403.3,436.67 407.2,433.88 408.68,431.1 410.16,428.31 411.61,425.53 412.68,422.74 412.93,419.96 413.17,417.17 413.42,414.39 413.66,411.6 413.89,408.82 414.12,406.03 414.36,403.25 414.64,400.46 414.91,397.68 415.17,394.89 415.44,392.11 415.7,389.32 415.96,386.54 416.23,383.75 416.49,380.97 416.75,378.18 417.02,375.4 417.28,372.61 417.56,369.82 417.84,367.04 418.12,364.25 418.51,361.47 418.89,358.68 419.27,355.9 419.65,353.11 420.03,350.33 420.41,347.54 420.79,344.76 421.17,341.97 421.56,339.19 421.95,336.4 422.36,333.62 422.76,330.83 423.17,328.05 423.58,325.26 424.04,322.48 424.68,319.69 425.33,316.91 426.05,314.12 426.78,311.34 427.52,308.55 428.41,305.77 430.6,302.98 440.42,300.2 442.42,300.22 444.42,300.33 446.42,300.43 448.42,300.54 450.42,300.64 452.42,300.74 454.42,300.84 456.42,300.93 458.42,301.02 460.42,301.1 462.42,300.91 464.42,300.44 466.42,299.96 468.42,299.49 470.42,299.94 472.42,300.39 474.42,300.85 476.42,300.95 478.42,300.69 480.42,300.44 482.42,300.19 484.42,300.27 486.42,300.36 488.42,300.45 490.42,300.44 492.42,300.33 494.42,300.22 496.42,300.11 498.42,300.37 500.42,300.63 502.42,300.9 504.42,300.84 506.42,300.47 508.42,300.09 510.42,299.72 512.42,299.52 514.42,299.32 516.42,299.12 518.42,299.3 520.42,299.86 522.42,300.42 524.42,300.99 526.42,300.87 528.42,300.76 530.42,300.64 532.42,300.6" fill="none" stroke="#333333" stroke-width="1.2" stroke-linejoin="round" />
<polyline points="316.4,439.8 318.4,440 320.4,440.19 322.4,440.22 324.4,440.08 326.4,439.94 328.4,439.84 330.4,439.73 332.4,439.73 334.4,439.82 336.4,439.92 338.4,439.11 340.4,438.3 342.4,438.13 344.4,438.62 346.4,439.1 348.4,438.91 350.4,438.71 352.4,438.94 354.4,439.59 356.4,440.24 358.4,439.89 360.4,439.54 362.4,439.53 364.4,439.85 366.4,440.18 368.4,440.14 370.4,440.1 372.4,440.25 374.4,440.58 376.4,440.92 378.4,440.84 380.4,440.76 382.4,440.08 384.4,438.79 386.4,437.51 388.4,438.49 389.74,439.3 400.5,436.51 404.47,433.72 405.95,430.93 407.43,428.14 408.88,425.35 409.94,422.56 410.21,419.77 410.48,416.98 410.75,414.19 411,411.39 411.25,408.6 411.5,405.81 411.75,403.02 412.04,400.23 412.33,397.44 412.6,394.65 412.88,391.86 413.15,389.07 413.43,386.28 413.7,383.49 413.98,380.7 414.25,377.91 414.52,375.12 414.8,372.33 415.09,369.54 415.39,366.75 415.69,363.96 416.08,361.17 416.47,358.38 416.87,355.59 417.26,352.8 417.65,350.01 418.05,347.22 418.44,344.43 418.83,341.63 419.23,338.84 419.64,336.05 420.07,333.26 420.49,330.47 420.91,327.68 421.35,324.89 421.84,322.1 422.49,319.31 423.16,316.52 423.93,313.73 424.7,310.94 425.48,308.15 426.47,305.36 428.71,302.57 438.62,299.78 440.62,299.29 442.62,299.1 444.62,298.91 446.62,298.95 448.62,299.21 450.62,299.47 452.62,299.73 454.62,299.98 456.62,300.23 458.62,300.48 460.62,300.59 462.62,300.55 464.62,300.52 466.62,300.49 468.62,300.02 470.62,299.54 472.62,299.07 474.62,298.87 476.62,298.93 478.62,299 480.62,299.06 482.62,299.4 484.62,299.74 486.62,300.08 488.62,300.34 490.62,300.53 492.62,300.71 494.62,300.9 496.62,300.29 498.62,299.68 500.62,299.07 502.62,298.77 504.62,298.78 506.62,298.78 508.62,298.79 510.62,299.21 512.62,299.62 514.62,300.04 516.62,300.22 518.62,300.17 520.62,300.11 522.62,300.06 524.62,300.19 526.62,300.32 528.62,300.46 530.62,300.32 532.62,299.89" fill="none" stroke="#2a8a2a" stroke-width="1.2" stroke-linejoin="round" />
<polyline points="316.4,439.42 318.4,439.45 320.4,439.48 322.4,439.2 324.4,438.61 326.4,438.02 328.4,439.25 330.4,440.47 332.4,440.8 334.4,440.24 336.4,439.68 338.4,439.57 340.4,439.46 342.4,439.62 344.4,440.07 346.4,440.51 348.4,440.83 350.4,441.14 352.4,441.31 354.4,441.33 356.4,441.36 358.4,440.52 360.4,439.68 362.4,439.47 364.4,439.9 366.4,440.32 368.4,439.97 370.4,439.62 372.4,439.8 374.4,440.52 376.4,441.25 378.4,441.17 380.4,441.1 382.4,440.96 384.4,440.75 386.4,440.54 387.25,439.89 398.21,437.1 402.25,434.32 403.73,431.53 405.21,428.74 406.66,425.95 407.72,423.17 408,420.38 408.29,417.59 408.58,414.8 408.85,412.02 409.12,409.23 409.38,406.44 409.65,403.66 409.95,400.87 410.25,398.08 410.54,395.29 410.82,392.51 411.11,389.72 411.39,386.93 411.68,384.14 411.96,381.36 412.24,378.57 412.53,375.78 412.81,372.99 413.12,370.21 413.43,367.42 413.75,364.63 414.15,361.84 414.56,359.06 414.96,356.27 415.37,353.48 415.77,350.7 416.18,347.91 416.58,345.12 416.99,342.33 417.39,339.55 417.83,336.76 418.27,333.97 418.71,331.18 419.15,328.4 419.61,325.61 420.12,322.82 420.79,320.03 421.48,317.25 422.29,314.46 423.11,311.67 423.93,308.88 425,306.1 427.3,303.31 437.29,300.52 439.29,300.59 441.29,300.63 443.29,300.67 445.29,300.55 447.29,300.27 449.29,299.99 451.29,299.71 453.29,300.09 455.29,300.46 457.29,300.83 459.29,300.88 461.29,300.59 463.29,300.3 465.29,300.01 467.29,300.2 469.29,300.39 471.29,300.58 473.29,300.48 475.29,300.1 477.29,299.71 479.29,299.33 481.29,299.6 483.29,299.87 485.29,300.14 487.29,300.35 489.29,300.5 491.29,300.65 493.29,300.8 495.29,300.81 497.29,300.82 499.29,300.83 501.29,300.81 503.29,300.77 505.29,300.72 507.29,300.68 509.29,300.46 511.29,300.25 513.29,300.03 515.29,300.07 517.29,300.34 519.29,300.62 521.29,300.89 523.29,300.9 525.29,300.9 527.29,300.91 529.29,300.89 531.29,300.84 533.29,300.79" fill="none" stroke="#ffaa00" stroke-width="1.2" stroke-linejoin="round" />
<polyline points="316.4,439.93 318.4,439.12 320.4,438.31 322.4,438.6 324.4,439.99 326.4,441.37 328.4,440.47 330.4,439.56 332.4,439.06 334.4,438.95 336.4,438.83 338.4,439.1 340.4,439.37 342.4,439.23 344.4,438.67 346.4,438.12 348.4,439.37 350.4,440.62 352.4,441.32 354.4,441.47 356.4,441.62 358.4,441.37 360.4,441.12 362.4,440.8 364.4,440.4 366.4,440 368.4,440.59 370.4,441.17 372.4,440.98 374.4,440 376.4,439.02 378.4,439.24 380.4,439.46 382.4,439.33 384.27,439.7 395.43,436.89 399.54,434.07 401.02,431.25 402.5,428.43 403.95,425.61 405,422.8 405.3,419.98 405.61,417.16 405.92,414.34 406.21,411.52 406.49,408.71 406.76,405.89 407.05,403.07 407.37,400.25 407.68,397.43 407.97,394.62 408.27,391.8 408.56,388.98 408.86,386.16 409.15,383.34 409.45,380.53 409.74,377.71 410.04,374.89 410.33,372.07 410.65,369.25 410.98,366.44 411.3,363.62 411.72,360.8 412.14,357.98 412.56,355.16 412.97,352.35 413.39,349.53 413.81,346.71 414.22,343.89 414.64,341.08 415.06,338.26 415.5,335.44 415.96,332.62 416.42,329.8 416.88,326.99 417.36,324.17 417.9,321.35 418.59,318.53 419.29,315.71 420.15,312.9 421,310.08 421.87,307.26 423.02,304.44 425.37,301.62 435.45,298.81 437.45,298.97 439.45,299.32 441.45,299.66 443.45,299.74 445.45,299.56 447.45,299.38 449.45,299.2 451.45,299.12 453.45,299.04 455.45,298.96 457.45,298.91 459.45,298.91 461.45,298.9 463.45,298.89 465.45,298.96 467.45,299.03 469.45,299.1 471.45,299.12 473.45,299.1 475.45,299.09 477.45,299.07 479.45,298.96 481.45,298.85 483.45,298.75 485.45,298.71 487.45,298.75 489.45,298.79 491.45,298.83 493.45,298.55 495.45,298.27 497.45,297.99 499.45,297.97 501.45,298.2 503.45,298.44 505.45,298.67 507.45,298.83 509.45,298.99 511.45,299.15 513.45,299.07 515.45,298.76 517.45,298.45 519.45,298.14 521.45,298.18 523.45,298.22 525.45,298.25 527.45,298.45 529.45,298.81 531.45,299.18" fill="none" stroke="#128080" stroke-width="1.2" stroke-linejoin="round" />
<polyline points="316.4,440.59 318.4,439.48 320.4,438.36 322.4,437.94 324.4,438.23 326.4,438.52 328.4,439.5 330.4,440.47 332.4,440.56 334.4,439.77 336.4,438.97 338.4,439.62 340.4,440.26 342.4,440.55 344.4,440.46 346.4,440.38 348.4,439.18 350.4,437.99 352.4,437.56 354.4,437.88 356.4,438.2 358.4,439.3 360.4,440.41 362.4,440.49 364.4,439.55 366.4,438.6 368.4,438.73 370.4,438.87 372.4,439.36 374.4,440.21 376.4,441.06 378.4,439.74 380.4,438.42 381.3,439.32 392.66,436.5 396.83,433.68 398.31,430.87 399.8,428.05 401.24,425.24 402.28,422.42 402.61,419.6 402.93,416.79 403.26,413.97 403.57,411.15 403.86,408.34 404.15,405.52 404.45,402.7 404.78,399.89 405.1,397.07 405.41,394.25 405.71,391.44 406.02,388.62 406.32,385.8 406.63,382.99 406.93,380.17 407.24,377.36 407.54,374.54 407.84,371.72 408.18,368.91 408.52,366.09 408.86,363.27 409.29,360.46 409.72,357.64 410.15,354.82 410.57,352.01 411,349.19 411.43,346.37 411.86,343.56 412.29,340.74 412.71,337.92 413.18,335.11 413.65,332.29 414.13,329.48 414.61,326.66 415.11,323.84 415.66,321.03 416.37,318.21 417.1,315.39 417.99,312.58 418.88,309.76 419.8,306.94 421.03,304.13 423.42,301.31 433.58,298.49 435.58,299.4 437.58,299.18 439.58,298.96 441.58,298.84 443.58,298.83 445.58,298.82 447.58,298.8 449.58,298.37 451.58,297.94 453.58,297.51 455.58,297.51 457.58,297.94 459.58,298.38 461.58,298.81 463.58,298.94 465.58,299.07 467.58,299.2 469.58,299.12 471.58,298.83 473.58,298.53 475.58,298.24 477.58,298.02 479.58,297.8 481.58,297.58 483.58,297.49 485.58,297.53 487.58,297.57 489.58,297.61 491.58,297.57 493.58,297.54 495.58,297.5 497.58,297.6 499.58,297.83 501.58,298.06 503.58,298.29 505.58,298.57 507.58,298.84 509.58,299.12 511.58,299 513.58,298.48 515.58,297.96 517.58,297.44 519.58,297.67 521.58,297.91 523.58,298.15 525.58,298.27 527.58,298.26 529.58,298.26 531.58,298.26" fill="none" stroke="#ff2a2a" stroke-width="1.2" stroke-linejoin="round" />
<polyline points="316.4,439.88 318.4,439.35 320.4,438.82 322.4,439.03 324.4,439.97 326.4,440.91 328.4,440.47 330.4,440.03 332.4,439.67 334.4,439.41 336.4,439.15 338.4,440.12 340.4,441.1 342.4,441.39 344.4,440.97 346.4,440.56 348.4,439.69 350.4,438.82 352.4,439.03 354.4,440.32 356.4,441.61 358.4,440.99 360.4,440.36 362.4,439.86 364.4,439.48 366.4,439.1 368.4,438.93 370.4,438.77 372.4,438.55 374.4,438.28 376.4,438.01 378.4,438.29 378.85,439.74 390.39,436.92 394.63,434.1 396.11,431.28 397.59,428.46 399.03,425.64 400.07,422.82 400.41,420 400.76,417.18 401.1,414.36 401.43,411.54 401.74,408.73 402.04,405.91 402.36,403.09 402.7,400.27 403.03,397.45 403.35,394.63 403.66,391.81 403.97,388.99 404.29,386.17 404.6,383.35 404.92,380.53 405.23,377.71 405.55,374.89 405.86,372.08 406.21,369.26 406.56,366.44 406.92,363.62 407.36,360.8 407.8,357.98 408.23,355.16 408.67,352.34 409.11,349.52 409.55,346.7 409.99,343.88 410.43,341.06 410.87,338.24 411.35,335.43 411.84,332.61 412.33,329.79 412.83,326.97 413.35,324.15 413.92,321.33 414.65,318.51 415.39,315.69 416.33,312.87 417.26,310.05 418.21,307.23 419.53,304.41 421.97,301.59 432.21,298.77 434.21,298.31 436.21,298.34 438.21,298.38 440.21,298.62 442.21,299.06 444.21,299.5 446.21,299.95 448.21,299.67 450.21,299.4 452.21,299.13 454.21,298.86 456.21,298.59 458.21,298.31 460.21,298.04 462.21,298.16 464.21,298.28 466.21,298.4 468.21,298.49 470.21,298.53 472.21,298.57 474.21,298.61 476.21,298.37 478.21,298.13 480.21,297.89 482.21,297.91 484.21,298.17 486.21,298.43 488.21,298.7 490.21,298.73 492.21,298.75 494.21,298.78 496.21,298.93 498.21,299.21 500.21,299.48 502.21,299.76 504.21,299.43 506.21,299.1 508.21,298.78 510.21,298.7 512.21,298.88 514.21,299.05 516.21,299.23 518.21,299.22 520.21,299.22 522.21,299.21 524.21,299.03 526.21,298.69 528.21,298.34 530.21,297.99 532.21,298.26" fill="none" stroke="#1a2a7a" stroke-width="1.2" stroke-linejoin="round" />
<polyline points="316.4,437.91 318.4,439.47 320.4,441.02 322.4,441.08 324.4,439.63 326.4,438.18 328.4,439.45 330.4,440.73 332.4,440.95 334.4,440.12 336.4,439.28 338.4,438.83 340.4,438.37 342.4,438.85 344.4,440.26 346.4,441.68 348.4,441.19 350.4,440.7 352.4,440.25 354.4,439.85 356.4,439.44 358.4,440.13 360.4,440.82 362.4,441.07 364.4,440.86 366.4,440.65 368.4,440.18 370.4,439.71 372.4,439.72 374.4,440.21 376.4,440.69 376.8,439.82 388.53,436.98 392.83,434.13 394.31,431.29 395.8,428.45 397.23,425.6 398.26,422.76 398.63,419.92 398.99,417.08 399.35,414.23 399.69,411.39 400.01,408.55 400.33,405.7 400.66,402.86 401.02,400.02 401.36,397.18 401.69,394.33 402.01,391.49 402.33,388.65 402.66,385.81 402.98,382.96 403.3,380.12 403.63,377.28 403.95,374.43 404.27,371.59 404.63,368.75 405,365.91 405.37,363.06 405.82,360.22 406.27,357.38 406.72,354.53 407.17,351.69 407.62,348.85 408.07,346.01 408.52,343.16 408.97,340.32 409.42,337.48 409.91,334.64 410.42,331.79 410.93,328.95 411.44,326.11 411.98,323.26 412.58,320.42 413.32,317.58 414.08,314.74 415.06,311.89 416.03,309.05 417.02,306.21 418.42,303.36 420.9,300.52 431.22,297.68 433.22,297.27 435.22,297.64 437.22,298.01 439.22,298.27 441.22,298.4 443.22,298.54 445.22,298.68 447.22,298.52 449.22,298.36 451.22,298.21 453.22,298.17 455.22,298.24 457.22,298.32 459.22,298.4 461.22,298.53 463.22,298.66 465.22,298.79 467.22,298.79 469.22,298.66 471.22,298.52 473.22,298.39 475.22,298.17 477.22,297.94 479.22,297.72 481.22,297.64 483.22,297.7 485.22,297.76 487.22,297.83 489.22,297.97 491.22,298.11 493.22,298.25 495.22,298.27 497.22,298.18 499.22,298.09 501.22,298 503.22,297.61 505.22,297.23 507.22,296.84 509.22,296.65 511.22,296.64 513.22,296.63 515.22,296.62 517.22,296.77 519.22,296.91 521.22,297.06 523.22,297.32 525.22,297.69 527.22,298.07 529.22,298.44 531.22,298.03 533.22,297.62" fill="none" stroke="#5a5aff" stroke-width="1.2" stroke-linejoin="round" />
<polyline points="316.4,438.13 318.4,438.37 320.4,438.61 322.4,438.71 324.4,438.67 326.4,438.64 328.4,438.3 330.4,437.97 332.4,438.36 334.4,439.47 336.4,440.58 338.4,439.91 340.4,439.23 342.4,438.96 344.4,439.1 346.4,439.24 348.4,439.12 350.4,439 352.4,438.73 354.4,438.3 356.4,437.87 358.4,439.12 360.4,440.37 362.4,440.42 364.4,439.28 366.4,438.15 368.4,438.39 370.4,438.63 372.4,439.1 373.86,439.61 385.77,436.79 390.13,433.97 391.62,431.15 393.1,428.33 394.54,425.51 395.56,422.69 395.94,419.88 396.32,417.06 396.7,414.24 397.06,411.42 397.39,408.6 397.73,405.78 398.07,402.96 398.44,400.14 398.79,397.32 399.13,394.5 399.46,391.68 399.79,388.86 400.12,386.04 400.46,383.22 400.79,380.4 401.12,377.59 401.46,374.77 401.79,371.95 402.16,369.13 402.54,366.31 402.93,363.49 403.39,360.67 403.85,357.85 404.31,355.03 404.77,352.21 405.23,349.39 405.69,346.57 406.15,343.75 406.61,340.93 407.07,338.11 407.58,335.3 408.1,332.48 408.63,329.66 409.15,326.84 409.71,324.02 410.33,321.2 411.09,318.38 411.87,315.56 412.88,312.74 413.89,309.92 414.92,307.1 416.39,304.28 418.93,301.46 429.32,298.64 431.32,298.39 433.32,298.5 435.32,298.61 437.32,298.6 439.32,298.48 441.32,298.36 443.32,298.24 445.32,298.39 447.32,298.55 449.32,298.71 451.32,298.71 453.32,298.54 455.32,298.37 457.32,298.21 459.32,298.3 461.32,298.4 463.32,298.49 465.32,298.39 467.32,298.08 469.32,297.77 471.32,297.47 473.32,297.47 475.32,297.47 477.32,297.48 479.32,297.65 481.32,297.99 483.32,298.32 485.32,298.66 487.32,298.87 489.32,299.09 491.32,299.3 493.32,299.47 495.32,299.59 497.32,299.72 499.32,299.84 501.32,299.71 503.32,299.57 505.32,299.44 507.32,299.28 509.32,299.09 511.32,298.89 513.32,298.7 515.32,298.79 517.32,298.87 519.32,298.95 521.32,299 523.32,299.02 525.32,299.04 527.32,299.06 529.32,299.1 531.32,299.14" fill="none" stroke="#ffaaaa" stroke-width="1.2" stroke-linejoin="round" />
<polyline points="316.4,440.47 318.4,441 320.4,441.54 322.4,441.35 324.4,440.45 326.4,439.55 328.4,439.36 330.4,439.17 332.4,439.71 334.4,441 336.4,442.28 338.4,440.87 340.4,439.46 342.4,439.45 344.4,440.86 346.4,442.26 348.4,442.3 350.4,442.33 352.4,441.75 354.4,440.55 356.4,439.35 358.4,440.29 360.4,441.24 362.4,441.33 364.4,440.59 366.4,439.84 368.4,439.81 369.7,440.69 381.97,437.81 386.45,434.94 387.94,432.07 389.42,429.19 390.85,426.32 391.86,423.45 392.28,420.57 392.69,417.7 393.11,414.82 393.5,411.95 393.86,409.08 394.22,406.2 394.59,403.33 394.98,400.46 395.36,397.58 395.71,394.71 396.06,391.83 396.41,388.96 396.76,386.09 397.11,383.21 397.46,380.34 397.81,377.47 398.16,374.59 398.52,371.72 398.91,368.85 399.32,365.97 399.73,363.1 400.21,360.22 400.69,357.35 401.17,354.48 401.65,351.6 402.14,348.73 402.62,345.86 403.1,342.98 403.58,340.11 404.06,337.24 404.6,334.36 405.15,331.49 405.71,328.61 406.27,325.74 406.87,322.87 407.53,319.99 408.32,317.12 409.13,314.25 410.22,311.37 411.3,308.5 412.41,305.63 414.03,302.75 416.65,299.88 427.19,297 429.19,298.1 431.19,298.03 433.19,297.97 435.19,297.89 437.19,297.81 439.19,297.72 441.19,297.64 443.19,297.41 445.19,297.19 447.19,296.96 449.19,297.04 451.19,297.42 453.19,297.79 455.19,298.17 457.19,297.89 459.19,297.6 461.19,297.32 463.19,297.31 465.19,297.6 467.19,297.88 469.19,298.16 471.19,297.98 473.19,297.8 475.19,297.62 477.19,297.3 479.19,296.84 481.19,296.38 483.19,295.92 485.19,296.43 487.19,296.95 489.19,297.46 491.19,297.73 493.19,297.76 495.19,297.79 497.19,297.82 499.19,297.85 501.19,297.87 503.19,297.9 505.19,297.83 507.19,297.65 509.19,297.48 511.19,297.3 513.19,296.9 515.19,296.5 517.19,296.1 519.19,296.18 521.19,296.75 523.19,297.32 525.19,297.89 527.19,297.58 529.19,297.28 531.19,296.97 533.19,296.74" fill="none" stroke="#ff5a5a" stroke-width="1.2" stroke-linejoin="round" />
<polyline points="316.4,440.7 318.4,439.51 320.4,438.32 322.4,438.4 324.4,439.75 326.4,441.11 328.4,439.66 330.4,438.22 332.4,438.07 334.4,439.2 336.4,440.33 338.4,439.54 340.4,438.75 342.4,438.58 344.4,439.04 346.4,439.49 348.4,438.95 350.4,438.41 352.4,438.72 354.4,439.88 356.4,441.03 358.4,439.84 360.4,438.65 362.4,438.31 364.4,438.8 365.16,439.43 377.78,436.57 382.38,433.7 383.86,430.83 385.35,427.96 386.78,425.1 387.77,422.23 388.22,419.36 388.67,416.5 389.12,413.63 389.54,410.76 389.93,407.89 390.32,405.03 390.71,402.16 391.13,399.29 391.53,396.43 391.9,393.56 392.26,390.69 392.63,387.82 393,384.96 393.37,382.09 393.74,379.22 394.11,376.35 394.47,373.49 394.84,370.62 395.26,367.75 395.7,364.89 396.13,362.02 396.63,359.15 397.13,356.28 397.64,353.42 398.14,350.55 398.64,347.68 399.14,344.82 399.64,341.95 400.14,339.08 400.64,336.21 401.21,333.35 401.8,330.48 402.38,327.61 402.97,324.75 403.61,321.88 404.31,319.01 405.13,316.14 405.98,313.28 407.14,310.41 408.29,307.54 409.48,304.67 411.25,301.81 413.96,298.94 424.64,296.07 426.64,296.23 428.64,296.12 430.64,296.01 432.64,295.88 434.64,295.72 436.64,295.55 438.64,295.39 440.64,295.44 442.64,295.49 444.64,295.54 446.64,295.79 448.64,296.23 450.64,296.67 452.64,297.12 454.64,296.56 456.64,296.01 458.64,295.45 460.64,295.14 462.64,295.06 464.64,294.99 466.64,294.92 468.64,295.53 470.64,296.14 472.64,296.75 474.64,297.05 476.64,297.03 478.64,297.02 480.64,297 482.64,296.86 484.64,296.72 486.64,296.59 488.64,296.44 490.64,296.3 492.64,296.15 494.64,296.01 496.64,296.33 498.64,296.66 500.64,296.99 502.64,296.97 504.64,296.6 506.64,296.23 508.64,295.86 510.64,295.59 512.64,295.32 514.64,295.04 516.64,295.05 518.64,295.34 520.64,295.63 522.64,295.92 524.64,295.98 526.64,296.05 528.64,296.11 530.64,296.15 532.64,296.16" fill="none" stroke="#bb33bb" stroke-width="1.2" stroke-linejoin="round" />
<polyline points="316.4,441.94 318.4,441.41 320.4,440.88 322.4,440.78 324.4,441.11 326.4,441.45 328.4,440.94 330.4,440.43 332.4,440.08 334.4,439.89 336.4,439.71 338.4,439.77 340.4,439.83 342.4,439.81 344.4,439.72 346.4,439.62 348.4,439.91 350.4,440.19 352.4,440.45 354.4,440.68 356.4,440.91 358.4,441.29 360.4,441.66 360.74,440.52 373.7,437.61 378.41,434.71 379.9,431.8 381.39,428.89 382.81,425.99 383.79,423.08 384.28,420.17 384.76,417.27 385.24,414.36 385.69,411.45 386.11,408.55 386.52,405.64 386.94,402.73 387.38,399.83 387.8,396.92 388.18,394.01 388.57,391.11 388.96,388.2 389.34,385.29 389.73,382.39 390.11,379.48 390.5,376.57 390.88,373.67 391.27,370.76 391.71,367.85 392.17,364.95 392.63,362.04 393.15,359.13 393.67,356.23 394.2,353.32 394.72,350.41 395.24,347.51 395.76,344.6 396.28,341.69 396.8,338.79 397.32,335.88 397.91,332.97 398.53,330.07 399.15,327.16 399.77,324.25 400.44,321.35 401.18,318.44 402.03,315.53 402.92,312.63 404.14,309.72 405.37,306.81 406.63,303.91 408.54,301 411.34,298.09 422.16,295.18 424.16,294.59 426.16,294.78 428.16,294.97 430.16,295.09 432.16,295.15 434.16,295.21 436.16,295.26 438.16,295.46 440.16,295.65 442.16,295.85 444.16,295.91 446.16,295.84 448.16,295.76 450.16,295.69 452.16,295.63 454.16,295.57 456.16,295.51 458.16,295.5 460.16,295.53 462.16,295.57 464.16,295.6 466.16,295.45 468.16,295.29 470.16,295.14 472.16,295.18 474.16,295.43 476.16,295.67 478.16,295.92 480.16,295.94 482.16,295.96 484.16,295.98 486.16,295.9 488.16,295.72 490.16,295.53 492.16,295.34 494.16,295.04 496.16,294.73 498.16,294.42 500.16,294.37 502.16,294.58 504.16,294.8 506.16,295.01 508.16,294.9 510.16,294.79 512.16,294.68 514.16,294.6 516.16,294.55 518.16,294.5 520.16,294.45 522.16,294.52 524.16,294.59 526.16,294.66 528.16,294.88 530.16,295.23 532.16,295.59" fill="none" stroke="#2a2aff" stroke-width="1.2" stroke-linejoin="round" />
<polyline points="316.4,439.19 318.4,438.87 320.4,438.55 322.4,438.7 324.4,439.32 326.4,439.94 328.4,439.69 330.4,439.45 332.4,439.74 334.4,440.57 336.4,441.4 338.4,440.89 340.4,440.38 342.4,440.42 344.4,440.99 346.4,441.57 348.4,441.38 350.4,441.19 352.4,440.8 354.4,440.21 356.4,439.62 357.53,439.66 370.82,436.77 375.65,433.88 377.14,431 378.63,428.11 380.05,425.22 381.02,422.34 381.54,419.45 382.05,416.56 382.57,413.67 383.05,410.79 383.49,407.9 383.93,405.01 384.37,402.13 384.84,399.24 385.27,396.35 385.67,393.47 386.08,390.58 386.48,387.69 386.88,384.81 387.28,381.92 387.69,379.03 388.09,376.14 388.49,373.26 388.89,370.37 389.36,367.48 389.84,364.6 390.33,361.71 390.87,358.82 391.41,355.94 391.95,353.05 392.49,350.16 393.03,347.28 393.57,344.39 394.11,341.5 394.65,338.61 395.2,335.73 395.81,332.84 396.46,329.95 397.11,327.07 397.76,324.18 398.46,321.29 399.24,318.41 400.12,315.52 401.04,312.63 402.34,309.75 403.63,306.86 404.96,303.97 407.02,301.09 409.9,298.2 420.87,295.31 422.87,294.56 424.87,294.49 426.87,294.43 428.87,294.61 430.87,295.03 432.87,295.46 434.87,295.88 436.87,295.47 438.87,295.06 440.87,294.65 442.87,294.62 444.87,294.96 446.87,295.31 448.87,295.66 450.87,295.44 452.87,295.22 454.87,295 456.87,294.94 458.87,295.05 460.87,295.16 462.87,295.26 464.87,295.45 466.87,295.64 468.87,295.83 470.87,295.77 472.87,295.46 474.87,295.14 476.87,294.83 478.87,294.74 480.87,294.65 482.87,294.57 484.87,294.56 486.87,294.64 488.87,294.72 490.87,294.8 492.87,295.25 494.87,295.7 496.87,296.15 498.87,296.24 500.87,295.97 502.87,295.71 504.87,295.44 506.87,295.26 508.87,295.07 510.87,294.89 512.87,294.75 514.87,294.66 516.87,294.56 518.87,294.46 520.87,294.41 522.87,294.35 524.87,294.3 526.87,294.37 528.87,294.55 530.87,294.73 532.87,294.91" fill="none" stroke="#33bbff" stroke-width="1.2" stroke-linejoin="round" />
<polyline points="316.4,441.33 318.4,441.62 320.4,441.92 322.4,441.72 324.4,441.04 326.4,440.36 328.4,440 330.4,439.64 332.4,439.82 334.4,440.54 336.4,441.26 338.4,440.13 340.4,439 342.4,438.97 344.4,440.05 346.4,441.12 348.4,441.32 350.4,441.51 352.4,441.52 353.44,440.08 367.06,437.18 372,434.27 373.49,431.36 374.98,428.46 376.39,425.55 377.36,422.65 377.9,419.74 378.45,416.84 379,413.93 379.51,411.02 379.97,408.12 380.44,405.21 380.91,402.31 381.39,399.4 381.85,396.49 382.27,393.59 382.69,390.68 383.11,387.78 383.52,384.87 383.94,381.96 384.36,379.06 384.78,376.15 385.2,373.25 385.62,370.34 386.11,367.44 386.62,364.53 387.13,361.62 387.69,358.72 388.25,355.81 388.81,352.91 389.37,350 389.93,347.09 390.48,344.19 391.04,341.28 391.6,338.38 392.16,335.47 392.81,332.56 393.48,329.66 394.16,326.75 394.84,323.85 395.58,320.94 396.4,318.04 397.31,315.13 398.26,312.22 399.62,309.32 400.98,306.41 402.39,303.51 404.58,300.6 407.55,297.69 418.65,294.79 420.65,294.16 422.65,294.49 424.65,294.82 426.65,295.06 428.65,295.21 430.65,295.36 432.65,295.51 434.65,295.25 436.65,294.98 438.65,294.71 440.65,294.72 442.65,295.02 444.65,295.32 446.65,295.61 448.65,295.15 450.65,294.68 452.65,294.22 454.65,294.11 456.65,294.36 458.65,294.61 460.65,294.86 462.65,294.88 464.65,294.9 466.65,294.92 468.65,295.01 470.65,295.16 472.65,295.32 474.65,295.48 476.65,295.22 478.65,294.96 480.65,294.71 482.65,294.52 484.65,294.42 486.65,294.31 488.65,294.21 490.65,294.52 492.65,294.83 494.65,295.14 496.65,295.09 498.65,294.68 500.65,294.27 502.65,293.86 504.65,294.04 506.65,294.21 508.65,294.38 510.65,294.51 512.65,294.57 514.65,294.64 516.65,294.71 518.65,294.93 520.65,295.15 522.65,295.37 524.65,295.35 526.65,295.11 528.65,294.86 530.65,294.61 532.65,294.7" fill="none" stroke="#ff2222" stroke-width="1.2" stroke-linejoin="round" />
<polyline points="316.4,442.04 318.4,441.24 320.4,440.44 322.4,440.12 324.4,440.3 326.4,440.47 328.4,439.59 330.4,438.7 332.4,438.4 334.4,438.68 336.4,438.95 338.4,439.04 340.4,439.13 342.4,439.15 344.4,439.09 346.4,439.03 348.4,439.52 349.45,440.19 363.4,437.27 368.45,434.36 369.95,431.45 371.44,428.54 372.84,425.63 373.79,422.72 374.37,419.81 374.95,416.9 375.54,413.99 376.07,411.08 376.56,408.17 377.05,405.26 377.54,402.35 378.05,399.44 378.53,396.53 378.96,393.62 379.4,390.71 379.83,387.8 380.27,384.89 380.7,381.98 381.14,379.07 381.57,376.16 382.01,373.25 382.44,370.34 382.95,367.43 383.49,364.51 384.02,361.6 384.6,358.69 385.18,355.78 385.76,352.87 386.34,349.96 386.91,347.05 387.49,344.14 388.07,341.23 388.65,338.32 389.23,335.41 389.9,332.5 390.6,329.59 391.31,326.68 392.02,323.77 392.79,320.86 393.65,317.95 394.58,315.04 395.57,312.13 397,309.22 398.43,306.31 399.9,303.4 402.23,300.49 405.28,297.58 416.52,294.66 418.52,294.2 420.52,294.45 422.52,294.71 424.52,294.92 426.52,295.1 428.52,295.27 430.52,295.45 432.52,294.93 434.52,294.41 436.52,293.9 438.52,293.7 440.52,293.81 442.52,293.93 444.52,294.05 446.52,294.22 448.52,294.4 450.52,294.57 452.52,294.5 454.52,294.19 456.52,293.88 458.52,293.58 460.52,293.64 462.52,293.71 464.52,293.78 466.52,293.96 468.52,294.25 470.52,294.55 472.52,294.84 474.52,294.72 476.52,294.6 478.52,294.48 480.52,294.6 482.52,294.94 484.52,295.29 486.52,295.63 488.52,295.41 490.52,295.18 492.52,294.95 494.52,294.9 496.52,295.03 498.52,295.15 500.52,295.28 502.52,295 504.52,294.72 506.52,294.44 508.52,294.31 510.52,294.33 512.52,294.35 514.52,294.37 516.52,294.7 518.52,295.02 520.52,295.35 522.52,295.43 524.52,295.27 526.52,295.1 528.52,294.94 530.52,295.15 532.52,295.35" fill="none" stroke="#33ee33" stroke-width="1.2" stroke-linejoin="round" />
<polyline points="316.4,440.21 318.4,439.33 320.4,438.45 322.4,437.96 324.4,437.89 326.4,437.81 328.4,438.31 330.4,438.81 332.4,439.3 334.4,439.78 336.4,440.25 338.4,439.73 340.4,439.21 342.4,439.26 344.4,439.89 344.58,439.5 358.85,436.57 364.01,433.64 365.5,430.71 367,427.78 368.4,424.85 369.34,421.92 369.95,418.99 370.56,416.06 371.17,413.13 371.74,410.2 372.25,407.27 372.76,404.34 373.28,401.41 373.81,398.48 374.31,395.55 374.76,392.62 375.21,389.69 375.66,386.76 376.11,383.83 376.56,380.9 377.01,377.97 377.47,375.04 377.92,372.11 378.37,369.18 378.9,366.25 379.46,363.32 380.02,360.39 380.61,357.46 381.21,354.53 381.81,351.6 382.4,348.67 383,345.74 383.6,342.81 384.19,339.88 384.79,336.95 385.39,334.02 386.08,331.09 386.82,328.16 387.55,325.23 388.29,322.3 389.1,319.37 389.99,316.44 390.95,313.51 391.97,310.58 393.47,307.65 394.96,304.72 396.51,301.79 398.97,298.86 402.1,295.93 413.47,293 415.47,292.77 417.47,292.66 419.47,292.54 421.47,292.57 423.47,292.74 425.47,292.91 427.47,293.08 429.47,293.13 431.47,293.18 433.47,293.22 435.47,293.09 437.47,292.78 439.47,292.47 441.47,292.16 443.47,292.46 445.47,292.76 447.47,293.07 449.47,293.07 451.47,292.78 453.47,292.49 455.47,292.2 457.47,292.75 459.47,293.3 461.47,293.85 463.47,293.97 465.47,293.67 467.47,293.37 469.47,293.07 471.47,292.85 473.47,292.63 475.47,292.4 477.47,292.23 479.47,292.12 481.47,292.01 483.47,291.9 485.47,292.02 487.47,292.14 489.47,292.25 491.47,292.35 493.47,292.42 495.47,292.49 497.47,292.56 499.47,292.74 501.47,292.91 503.47,293.09 505.47,293.2 507.47,293.27 509.47,293.33 511.47,293.39 513.47,293.42 515.47,293.46 517.47,293.49 519.47,293.41 521.47,293.23 523.47,293.04 525.47,292.86 527.47,292.99 529.47,293.12 531.47,293.25" fill="none" stroke="#c8a040" stroke-width="1.2" stroke-linejoin="round" />
<polyline points="316.4,438.86 318.4,439.15 320.4,439.44 322.4,439.82 324.4,440.28 326.4,440.74 328.4,439.86 330.4,438.97 332.4,438.92 334.4,439.73 336.4,440.53 338.4,439.55 340.4,438.56 341.72,439.99 356.31,437.04 361.57,434.1 363.07,431.16 364.56,428.21 365.96,425.27 366.89,422.33 367.53,419.38 368.17,416.44 368.81,413.5 369.4,410.55 369.94,407.61 370.48,404.67 371.02,401.73 371.58,398.78 372.09,395.84 372.55,392.9 373.02,389.95 373.49,387.01 373.96,384.07 374.42,381.12 374.89,378.18 375.36,375.24 375.83,372.29 376.29,369.35 376.85,366.41 377.43,363.46 378.01,360.52 378.62,357.58 379.24,354.63 379.85,351.69 380.47,348.75 381.09,345.81 381.7,342.86 382.32,339.92 382.93,336.98 383.55,334.03 384.27,331.09 385.03,328.15 385.79,325.2 386.56,322.26 387.4,319.32 388.33,316.37 389.32,313.43 390.37,310.49 391.93,307.54 393.49,304.6 395.1,301.66 397.7,298.72 400.91,295.77 412.41,292.83 414.41,293.33 416.41,293.43 418.41,293.52 420.41,293.55 422.41,293.53 424.41,293.5 426.41,293.47 428.41,293.41 430.41,293.36 432.41,293.3 434.41,293.12 436.41,292.83 438.41,292.53 440.41,292.24 442.41,292.74 444.41,293.25 446.41,293.75 448.41,293.87 450.41,293.6 452.41,293.34 454.41,293.07 456.41,293.28 458.41,293.5 460.41,293.71 462.41,293.82 464.41,293.84 466.41,293.86 468.41,293.88 470.41,293.4 472.41,292.92 474.41,292.44 476.41,292.45 478.41,292.95 480.41,293.46 482.41,293.96 484.41,293.35 486.41,292.74 488.41,292.13 490.41,292.01 492.41,292.4 494.41,292.78 496.41,293.16 498.41,292.9 500.41,292.64 502.41,292.38 504.41,292.19 506.41,292.08 508.41,291.97 510.41,291.86 512.41,292.18 514.41,292.51 516.41,292.83 518.41,292.87 520.41,292.63 522.41,292.38 524.41,292.14 526.41,292.53 528.41,292.93 530.41,293.32 532.41,293.41" fill="none" stroke="#ff7f2a" stroke-width="1.2" stroke-linejoin="round" />
<polyline points="316.4,440.3 318.4,440.21 320.4,440.12 322.4,440.21 324.4,440.48 326.4,440.75 328.4,440.08 330.4,439.4 332.4,439.49 334.4,440.34 336.4,441.19 337.77,439.53 352.67,436.58 358.04,433.62 359.53,430.66 361.03,427.71 362.42,424.75 363.34,421.8 364.01,418.84 364.69,415.88 365.36,412.93 365.98,409.97 366.54,407.02 367.1,404.06 367.66,401.11 368.24,398.15 368.77,395.19 369.25,392.24 369.74,389.28 370.22,386.33 370.7,383.37 371.18,380.41 371.67,377.46 372.15,374.5 372.63,371.55 373.12,368.59 373.69,365.64 374.3,362.68 374.9,359.72 375.53,356.77 376.17,353.81 376.8,350.86 377.43,347.9 378.07,344.95 378.7,341.99 379.33,339.03 379.97,336.08 380.6,333.12 381.35,330.17 382.14,327.21 382.93,324.25 383.72,321.3 384.59,318.34 385.56,315.39 386.58,312.43 387.66,309.48 389.28,306.52 390.91,303.56 392.59,300.61 395.32,297.65 398.61,294.7 410.24,291.74 412.24,292.64 414.24,292.53 416.24,292.43 418.24,292.15 420.24,291.69 422.24,291.24 424.24,290.79 426.24,291.39 428.24,292 430.24,292.61 432.24,292.6 434.24,291.99 436.24,291.37 438.24,290.76 440.24,291.21 442.24,291.66 444.24,292.12 446.24,292.17 448.24,291.82 450.24,291.47 452.24,291.13 454.24,291.43 456.24,291.74 458.24,292.05 460.24,292.25 462.24,292.35 464.24,292.45 466.24,292.55 468.24,292.06 470.24,291.56 472.24,291.07 474.24,290.89 476.24,291.04 478.24,291.18 480.24,291.32 482.24,291.71 484.24,292.1 486.24,292.49 488.24,292.55 490.24,292.26 492.24,291.97 494.24,291.69 496.24,291.46 498.24,291.24 500.24,291.02 502.24,290.88 504.24,290.84 506.24,290.79 508.24,290.75 510.24,290.77 512.24,290.8 514.24,290.82 516.24,290.83 518.24,290.82 520.24,290.81 522.24,290.79 524.24,290.97 526.24,291.14 528.24,291.31 530.24,291.54 532.24,291.83" fill="none" stroke="#ff5f5f" stroke-width="1.2" stroke-linejoin="round" />
<polyline points="316.4,439.24 318.4,439.44 320.4,439.65 322.4,439.73 324.4,439.67 326.4,439.62 328.4,439.93 330.4,440.24 332.4,440.42 334.12,439.82 349.33,436.86 354.81,433.89 356.3,430.92 357.8,427.95 359.19,424.98 360.09,422.01 360.8,419.05 361.5,416.08 362.21,413.11 362.85,410.14 363.44,407.17 364.02,404.2 364.61,401.24 365.21,398.27 365.75,395.3 366.25,392.33 366.75,389.36 367.25,386.39 367.75,383.42 368.25,380.46 368.74,377.49 369.24,374.52 369.74,371.55 370.24,368.58 370.84,365.61 371.46,362.65 372.09,359.68 372.74,356.71 373.39,353.74 374.04,350.77 374.7,347.8 375.35,344.84 376,341.87 376.65,338.9 377.3,335.93 377.95,332.96 378.72,329.99 379.54,327.03 380.36,324.06 381.18,321.09 382.08,318.12 383.09,315.15 384.13,312.18 385.24,309.21 386.93,306.25 388.62,303.28 390.37,300.31 393.23,297.34 396.6,294.37 408.35,291.4 410.35,291.85 412.35,291.71 414.35,291.56 416.35,291.32 418.35,290.97 420.35,290.62 422.35,290.28 424.35,290.78 426.35,291.29 428.35,291.8 430.35,292.06 432.35,292.07 434.35,292.07 436.35,292.08 438.35,292.05 440.35,292.01 442.35,291.97 444.35,291.85 446.35,291.65 448.35,291.45 450.35,291.25 452.35,291.56 454.35,291.87 456.35,292.18 458.35,292.06 460.35,291.52 462.35,290.98 464.35,290.44 466.35,290.88 468.35,291.32 470.35,291.76 472.35,291.93 474.35,291.83 476.35,291.73 478.35,291.64 480.35,291.71 482.35,291.78 484.35,291.85 486.35,291.67 488.35,291.23 490.35,290.8 492.35,290.37 494.35,290.98 496.35,291.6 498.35,292.22 500.35,292.21 502.35,291.56 504.35,290.92 506.35,290.28 508.35,290.38 510.35,290.48 512.35,290.58 514.35,290.75 516.35,290.98 518.35,291.21 520.35,291.44 522.35,291.48 524.35,291.52 526.35,291.56 528.35,291.44 530.35,291.17 532.35,290.9" fill="none" stroke="#ffaaaa" stroke-width="1.2" stroke-linejoin="round" />
<polyline points="316.4,438.85 318.4,439.04 320.4,439.24 322.4,439.07 324.4,438.54 326.4,438.01 328.4,438.74 330.09,439.56 345.6,436.62 351.18,433.68 352.68,430.74 354.17,427.8 355.56,424.86 356.45,421.92 357.19,418.98 357.92,416.04 358.65,413.1 359.33,410.16 359.93,407.22 360.54,404.27 361.15,401.33 361.77,398.39 362.34,395.45 362.85,392.51 363.37,389.57 363.88,386.63 364.39,383.69 364.91,380.75 365.42,377.81 365.94,374.87 366.45,371.93 366.96,368.99 367.58,366.05 368.23,363.11 368.88,360.17 369.55,357.23 370.22,354.29 370.89,351.35 371.56,348.41 372.23,345.47 372.9,342.53 373.56,339.59 374.23,336.65 374.9,333.7 375.7,330.76 376.54,327.82 377.39,324.88 378.23,321.94 379.17,319 380.21,316.06 381.28,313.12 382.42,310.18 384.17,307.24 385.93,304.3 387.74,301.36 390.74,298.42 394.18,295.48 406.06,292.54 408.06,293.05 410.06,293.08 412.06,293.1 414.06,292.94 416.06,292.59 418.06,292.25 420.06,291.9 422.06,291.99 424.06,292.08 426.06,292.18 428.06,292.32 430.06,292.52 432.06,292.71 434.06,292.91 436.06,293.13 438.06,293.35 440.06,293.57 442.06,293.6 444.06,293.47 446.06,293.33 448.06,293.19 450.06,292.81 452.06,292.43 454.06,292.05 456.06,291.81 458.06,291.71 460.06,291.6 462.06,291.5 464.06,291.68 466.06,291.86 468.06,292.04 470.06,292.2 472.06,292.33 474.06,292.47 476.06,292.61 478.06,292.43 480.06,292.26 482.06,292.08 484.06,292.17 486.06,292.52 488.06,292.88 490.06,293.23 492.06,292.87 494.06,292.5 496.06,292.14 498.06,291.91 500.06,291.82 502.06,291.73 504.06,291.64 506.06,291.96 508.06,292.29 510.06,292.62 512.06,292.84 514.06,292.95 516.06,293.06 518.06,293.16 520.06,292.78 522.06,292.4 524.06,292.02 526.06,291.88 528.06,291.96 530.06,292.05 532.06,292.14" fill="none" stroke="#333333" stroke-width="1.2" stroke-linejoin="round" />
<polyline points="316.4,440.25 318.4,439.24 320.4,438.22 322.4,438.17 324.4,439.07 326.4,439.96 326.95,439.52 342.77,436.53 348.46,433.55 349.95,430.56 351.45,427.58 352.83,424.59 353.72,421.61 354.48,418.62 355.24,415.64 356.01,412.65 356.7,409.67 357.34,406.68 357.97,403.7 358.6,400.71 359.24,397.73 359.82,394.74 360.35,391.76 360.88,388.77 361.41,385.79 361.94,382.8 362.47,379.82 363,376.84 363.53,373.85 364.06,370.87 364.59,367.88 365.22,364.9 365.9,361.91 366.57,358.93 367.26,355.94 367.94,352.96 368.63,349.97 369.32,346.99 370,344 370.69,341.02 371.38,338.03 372.06,335.05 372.75,332.06 373.57,329.08 374.44,326.09 375.31,323.11 376.19,320.12 377.16,317.14 378.23,314.16 379.33,311.17 380.5,308.19 382.31,305.2 384.13,302.22 386.01,299.23 389.13,296.25 392.65,293.26 404.66,290.28 406.66,290.01 408.66,289.68 410.66,289.35 412.66,289.18 414.66,289.17 416.66,289.17 418.66,289.17 420.66,289.49 422.66,289.82 424.66,290.15 426.66,290.3 428.66,290.29 430.66,290.27 432.66,290.25 434.66,289.93 436.66,289.6 438.66,289.28 440.66,289.11 442.66,289.11 444.66,289.11 446.66,289.1 448.66,289.63 450.66,290.15 452.66,290.67 454.66,290.78 456.66,290.47 458.66,290.16 460.66,289.86 462.66,290.12 464.66,290.39 466.66,290.66 468.66,290.62 470.66,290.26 472.66,289.91 474.66,289.55 476.66,289.6 478.66,289.65 480.66,289.69 482.66,289.93 484.66,290.37 486.66,290.8 488.66,291.23 490.66,290.75 492.66,290.27 494.66,289.79 496.66,289.62 498.66,289.77 500.66,289.91 502.66,290.06 504.66,290.12 506.66,290.18 508.66,290.24 510.66,290.35 512.66,290.49 514.66,290.64 516.66,290.79 518.66,290.52 520.66,290.25 522.66,289.98 524.66,289.96 526.66,290.18 528.66,290.41 530.66,290.64 532.66,290.34" fill="none" stroke="#ff44cc" stroke-width="1.2" stroke-linejoin="round" />
<polyline points="316.4,438.94 318.4,438.74 320.4,438.53 322.4,438.47 323.73,440.19 339.85,437.18 345.64,434.17 347.13,431.17 348.63,428.16 350.01,425.15 350.88,422.14 351.67,419.13 352.47,416.12 353.26,413.12 353.98,410.11 354.64,407.1 355.29,404.09 355.95,401.08 356.61,398.08 357.21,395.07 357.76,392.06 358.3,389.05 358.84,386.04 359.39,383.03 359.93,380.03 360.48,377.02 361.02,374.01 361.57,371 362.11,367.99 362.77,364.99 363.46,361.98 364.16,358.97 364.86,355.96 365.57,352.95 366.27,349.94 366.97,346.94 367.68,343.93 368.38,340.92 369.09,337.91 369.79,334.9 370.49,331.9 371.34,328.89 372.24,325.88 373.13,322.87 374.03,319.86 375.04,316.85 376.14,313.85 377.27,310.84 378.47,307.83 380.35,304.82 382.22,301.81 384.17,298.81 387.42,295.8 391.01,292.79 403.15,289.78 405.15,290.18 407.15,289.99 409.15,289.79 411.15,289.8 413.15,290.02 415.15,290.24 417.15,290.46 419.15,290.59 421.15,290.72 423.15,290.86 425.15,290.65 427.15,290.11 429.15,289.57 431.15,289.03 433.15,289.43 435.15,289.83 437.15,290.23 439.15,290.5 441.15,290.64 443.15,290.77 445.15,290.91 447.15,290.46 449.15,290 451.15,289.55 453.15,289.24 455.15,289.08 457.15,288.93 459.15,288.77 461.15,289.03 463.15,289.29 465.15,289.56 467.15,289.72 469.15,289.77 471.15,289.83 473.15,289.88 475.15,289.98 477.15,290.08 479.15,290.18 481.15,290.19 483.15,290.11 485.15,290.03 487.15,289.95 489.15,289.77 491.15,289.58 493.15,289.4 495.15,289.26 497.15,289.16 499.15,289.07 501.15,288.97 503.15,289.09 505.15,289.21 507.15,289.34 509.15,289.44 511.15,289.53 513.15,289.62 515.15,289.71 517.15,289.51 519.15,289.32 521.15,289.12 523.15,289.07 525.15,289.14 527.15,289.22 529.15,289.3 531.15,289.7 533.15,290.1" fill="none" stroke="#88ddff" stroke-width="1.2" stroke-linejoin="round" />
<polyline points="316.4,440.44 317.2,439.78 333.91,436.76 339.9,433.75 341.4,430.73 342.9,427.72 344.27,424.7 345.12,421.69 345.97,418.68 346.82,415.66 347.67,412.65 348.45,409.63 349.15,406.62 349.85,403.6 350.55,400.59 351.25,397.57 351.89,394.56 352.46,391.54 353.04,388.53 353.61,385.52 354.18,382.5 354.76,379.49 355.33,376.47 355.91,373.46 356.48,370.44 357.06,367.43 357.75,364.41 358.49,361.4 359.23,358.39 359.97,355.37 360.71,352.36 361.45,349.34 362.19,346.33 362.92,343.31 363.66,340.3 364.4,337.28 365.14,334.27 365.88,331.25 366.77,328.24 367.72,325.23 368.67,322.21 369.62,319.2 370.69,316.18 371.86,313.17 373.04,310.15 374.3,307.14 376.3,304.12 378.3,301.11 380.38,298.09 383.88,295.08 387.62,292.07 400,289.05 402,289 404,288.92 406,288.84 408,288.7 410,288.51 412,288.32 414,288.13 416,288.55 418,288.98 420,289.41 422,289.56 424,289.45 426,289.33 428,289.22 430,289.5 432,289.79 434,290.08 436,289.89 438,289.21 440,288.54 442,287.86 444,288.25 446,288.65 448,289.04 450,289.18 452,289.08 454,288.98 456,288.87 458,288.88 460,288.88 462,288.89 464,288.99 466,289.19 468,289.39 470,289.58 472,289.26 474,288.93 476,288.6 478,288.49 480,288.59 482,288.7 484,288.81 486,288.63 488,288.44 490,288.26 492,288.32 494,288.62 496,288.91 498,289.21 500,289.12 502,289.03 504,288.94 506,288.76 508,288.49 510,288.22 512,287.95 514,288.08 516,288.21 518,288.34 520,288.46 522,288.57 524,288.69 526,288.8 528,288.89 530,288.99 532,289.08" fill="none" stroke="#8888ff" stroke-width="1.2" stroke-linejoin="round" />
</g>
<rect x="316.4" y="258.8" width="226.7" height="204.1" fill="none" stroke="#111" stroke-width="1.2"/>
<line x1="316.4" y1="435.7" x2="322.9" y2="435.7" stroke="#111" stroke-width="1.1"/>
<line x1="536.6" y1="435.7" x2="543.1" y2="435.7" stroke="#111" stroke-width="1.1"/>
<line x1="316.4" y1="406.22" x2="322.9" y2="406.22" stroke="#111" stroke-width="1.1"/>
<line x1="536.6" y1="406.22" x2="543.1" y2="406.22" stroke="#111" stroke-width="1.1"/>
<line x1="316.4" y1="376.74" x2="322.9" y2="376.74" stroke="#111" stroke-width="1.1"/>
<line x1="536.6" y1="376.74" x2="543.1" y2="376.74" stroke="#111" stroke-width="1.1"/>
<line x1="316.4" y1="347.26" x2="322.9" y2="347.26" stroke="#111" stroke-width="1.1"/>
<line x1="536.6" y1="347.26" x2="543.1" y2="347.26" stroke="#111" stroke-width="1.1"/>
<line x1="316.4" y1="317.78" x2="322.9" y2="317.78" stroke="#111" stroke-width="1.1"/>
<line x1="536.6" y1="317.78" x2="543.1" y2="317.78" stroke="#111" stroke-width="1.1"/>
<line x1="316.4" y1="288.3" x2="322.9" y2="288.3" stroke="#111" stroke-width="1.1"/>
<line x1="536.6" y1="288.3" x2="543.1" y2="288.3" stroke="#111" stroke-width="1.1"/>
<line x1="316.4" y1="258.82" x2="322.9" y2="258.82" stroke="#111" stroke-width="1.1"/>
<line x1="536.6" y1="258.82" x2="543.1" y2="258.82" stroke="#111" stroke-width="1.1"/>
<line x1="375.76" y1="462.9" x2="375.76" y2="456.4" stroke="#111" stroke-width="1.1"/>
<line x1="375.76" y1="258.8" x2="375.76" y2="265.3" stroke="#111" stroke-width="1.1"/>
<line x1="435.12" y1="462.9" x2="435.12" y2="456.4" stroke="#111" stroke-width="1.1"/>
<line x1="435.12" y1="258.8" x2="435.12" y2="265.3" stroke="#111" stroke-width="1.1"/>
<line x1="494.48" y1="462.9" x2="494.48" y2="456.4" stroke="#111" stroke-width="1.1"/>
<line x1="494.48" y1="258.8" x2="494.48" y2="265.3" stroke="#111" stroke-width="1.1"/>
<text x="313.2" y="438.8" font-size="8.8" text-anchor="end" fill="#333" font-family="Liberation Serif" >0</text>
<text x="313.2" y="409.32" font-size="8.8" text-anchor="end" fill="#333" font-family="Liberation Serif" >10</text>
<text x="313.2" y="379.84" font-size="8.8" text-anchor="end" fill="#333" font-family="Liberation Serif" >20</text>
<text x="313.2" y="350.36" font-size="8.8" text-anchor="end" fill="#333" font-family="Liberation Serif" >30</text>
<text x="313.2" y="320.88" font-size="8.8" text-anchor="end" fill="#333" font-family="Liberation Serif" >40</text>
<text x="313.2" y="291.4" font-size="8.8" text-anchor="end" fill="#333" font-family="Liberation Serif" >50</text>
<text x="313.2" y="261.92" font-size="8.8" text-anchor="end" fill="#333" font-family="Liberation Serif" >60</text>
<text x="316.4" y="475.3" font-size="8.8" text-anchor="middle" fill="#333" font-family="Liberation Serif" >2</text>
<text x="375.76" y="475.3" font-size="8.8" text-anchor="middle" fill="#333" font-family="Liberation Serif" >4</text>
<text x="435.12" y="475.3" font-size="8.8" text-anchor="middle" fill="#333" font-family="Liberation Serif" >6</text>
<text x="494.48" y="475.3" font-size="8.8" text-anchor="middle" fill="#333" font-family="Liberation Serif" >8</text>
<text x="448.7" y="333" font-size="9" text-anchor="start" fill="#222" font-family="Liberation Serif" font-style="italic">H</text>
<line x1="449" y1="340.6" x2="459" y2="340.6" stroke="#111111" stroke-width="1.4"/>
<text x="462.6" y="342.7" font-size="6.2" fill="#333" font-family="Liberation Serif" textLength="2.8" lengthAdjust="spacingAndGlyphs">0</text>
<text x="466.5" y="342.7" font-size="6.2" fill="#333" font-family="Liberation Serif" textLength="8.6" lengthAdjust="spacingAndGlyphs">kOe</text>
<line x1="449" y1="346.63" x2="459" y2="346.63" stroke="#ff2020" stroke-width="1.4"/>
<text x="460.4" y="348.73" font-size="6.2" fill="#333" font-family="Liberation Serif" textLength="7.4" lengthAdjust="spacingAndGlyphs">0.5</text>
<text x="469.5" y="348.73" font-size="6.2" fill="#333" font-family="Liberation Serif" textLength="8.6" lengthAdjust="spacingAndGlyphs">kOe</text>
<line x1="449" y1="352.66" x2="459" y2="352.66" stroke="#7a4a2a" stroke-width="1.4"/>
<text x="461" y="354.76" font-size="6.2" fill="#333" font-family="Liberation Serif" textLength="2.8" lengthAdjust="spacingAndGlyphs">1</text>
<text x="467" y="354.76" font-size="6.2" fill="#333" font-family="Liberation Serif" textLength="8.6" lengthAdjust="spacingAndGlyphs">kOe</text>
<line x1="449" y1="358.69" x2="459" y2="358.69" stroke="#333333" stroke-width="1.4"/>
<text x="460.4" y="360.79" font-size="6.2" fill="#333" font-family="Liberation Serif" textLength="7.4" lengthAdjust="spacingAndGlyphs">1.5</text>
<text x="469.5" y="360.79" font-size="6.2" fill="#333" font-family="Liberation Serif" textLength="8.6" lengthAdjust="spacingAndGlyphs">kOe</text>
<line x1="449" y1="364.72" x2="459" y2="364.72" stroke="#2a8a2a" stroke-width="1.4"/>
<text x="461" y="366.82" font-size="6.2" fill="#333" font-family="Liberation Serif" textLength="2.8" lengthAdjust="spacingAndGlyphs">2</text>
<text x="467" y="366.82" font-size="6.2" fill="#333" font-family="Liberation Serif" textLength="8.6" lengthAdjust="spacingAndGlyphs">kOe</text>
<line x1="449" y1="370.75" x2="459" y2="370.75" stroke="#ffaa00" stroke-width="1.4"/>
<text x="460.4" y="372.85" font-size="6.2" fill="#333" font-family="Liberation Serif" textLength="7.4" lengthAdjust="spacingAndGlyphs">2.5</text>
<text x="469.5" y="372.85" font-size="6.2" fill="#333" font-family="Liberation Serif" textLength="8.6" lengthAdjust="spacingAndGlyphs">kOe</text>
<line x1="449" y1="376.78" x2="459" y2="376.78" stroke="#128080" stroke-width="1.4"/>
<text x="461" y="378.88" font-size="6.2" fill="#333" font-family="Liberation Serif" textLength="2.8" lengthAdjust="spacingAndGlyphs">3</text>
<text x="467" y="378.88" font-size="6.2" fill="#333" font-family="Liberation Serif" textLength="8.6" lengthAdjust="spacingAndGlyphs">kOe</text>
<line x1="449" y1="382.81" x2="459" y2="382.81" stroke="#ff2a2a" stroke-width="1.4"/>
<text x="460.4" y="384.91" font-size="6.2" fill="#333" font-family="Liberation Serif" textLength="7.4" lengthAdjust="spacingAndGlyphs">3.5</text>
<text x="469.5" y="384.91" font-size="6.2" fill="#333" font-family="Liberation Serif" textLength="8.6" lengthAdjust="spacingAndGlyphs">kOe</text>
<line x1="449" y1="388.84" x2="459" y2="388.84" stroke="#1a2a7a" stroke-width="1.4"/>
<text x="462.6" y="390.94" font-size="6.2" fill="#333" font-family="Liberation Serif" textLength="2.8" lengthAdjust="spacingAndGlyphs">4</text>
<text x="466.5" y="390.94" font-size="6.2" fill="#333" font-family="Liberation Serif" textLength="8.6" lengthAdjust="spacingAndGlyphs">kOe</text>
<line x1="449" y1="394.87" x2="459" y2="394.87" stroke="#5a5aff" stroke-width="1.4"/>
<text x="460.4" y="396.97" font-size="6.2" fill="#333" font-family="Liberation Serif" textLength="7.4" lengthAdjust="spacingAndGlyphs">4.5</text>
<text x="469.5" y="396.97" font-size="6.2" fill="#333" font-family="Liberation Serif" textLength="8.6" lengthAdjust="spacingAndGlyphs">kOe</text>
<line x1="449" y1="400.9" x2="459" y2="400.9" stroke="#ffaaaa" stroke-width="1.4"/>
<text x="462.6" y="403" font-size="6.2" fill="#333" font-family="Liberation Serif" textLength="2.8" lengthAdjust="spacingAndGlyphs">5</text>
<text x="466.5" y="403" font-size="6.2" fill="#333" font-family="Liberation Serif" textLength="8.6" lengthAdjust="spacingAndGlyphs">kOe</text>
<line x1="449" y1="406.93" x2="459" y2="406.93" stroke="#ff5a5a" stroke-width="1.4"/>
<text x="462.6" y="409.03" font-size="6.2" fill="#333" font-family="Liberation Serif" textLength="2.8" lengthAdjust="spacingAndGlyphs">6</text>
<text x="466.5" y="409.03" font-size="6.2" fill="#333" font-family="Liberation Serif" textLength="8.6" lengthAdjust="spacingAndGlyphs">kOe</text>
<line x1="449" y1="412.96" x2="459" y2="412.96" stroke="#bb33bb" stroke-width="1.4"/>
<text x="462.6" y="415.06" font-size="6.2" fill="#333" font-family="Liberation Serif" textLength="2.8" lengthAdjust="spacingAndGlyphs">7</text>
<text x="466.5" y="415.06" font-size="6.2" fill="#333" font-family="Liberation Serif" textLength="8.6" lengthAdjust="spacingAndGlyphs">kOe</text>
<line x1="449" y1="418.99" x2="459" y2="418.99" stroke="#2a2aff" stroke-width="1.4"/>
<text x="462.6" y="421.09" font-size="6.2" fill="#333" font-family="Liberation Serif" textLength="2.8" lengthAdjust="spacingAndGlyphs">8</text>
<text x="466.5" y="421.09" font-size="6.2" fill="#333" font-family="Liberation Serif" textLength="8.6" lengthAdjust="spacingAndGlyphs">kOe</text>
<line x1="449" y1="425.02" x2="459" y2="425.02" stroke="#33bbff" stroke-width="1.4"/>
<text x="462.6" y="427.12" font-size="6.2" fill="#333" font-family="Liberation Serif" textLength="2.8" lengthAdjust="spacingAndGlyphs">9</text>
<text x="466.5" y="427.12" font-size="6.2" fill="#333" font-family="Liberation Serif" textLength="8.6" lengthAdjust="spacingAndGlyphs">kOe</text>
<line x1="449" y1="431.05" x2="459" y2="431.05" stroke="#ff2222" stroke-width="1.4"/>
<text x="461" y="433.15" font-size="6.2" fill="#333" font-family="Liberation Serif" textLength="5.6" lengthAdjust="spacingAndGlyphs">10</text>
<text x="468" y="433.15" font-size="6.2" fill="#333" font-family="Liberation Serif" textLength="8.6" lengthAdjust="spacingAndGlyphs">kOe</text>
<line x1="449" y1="437.08" x2="459" y2="437.08" stroke="#33ee33" stroke-width="1.4"/>
<text x="461" y="439.18" font-size="6.2" fill="#333" font-family="Liberation Serif" textLength="5.6" lengthAdjust="spacingAndGlyphs">11</text>
<text x="468" y="439.18" font-size="6.2" fill="#333" font-family="Liberation Serif" textLength="8.6" lengthAdjust="spacingAndGlyphs">kOe</text>
<line x1="489.3" y1="343.2" x2="499" y2="343.2" stroke="#c8a040" stroke-width="1.4"/>
<text x="501.3" y="345.3" font-size="6.2" fill="#333" font-family="Liberation Serif" textLength="5.6" lengthAdjust="spacingAndGlyphs">12</text>
<text x="508.8" y="345.3" font-size="6.2" fill="#333" font-family="Liberation Serif" textLength="9" lengthAdjust="spacingAndGlyphs">kOe</text>
<line x1="489.3" y1="349.1" x2="499" y2="349.1" stroke="#ff7f2a" stroke-width="1.4"/>
<text x="501.3" y="351.2" font-size="6.2" fill="#333" font-family="Liberation Serif" textLength="5.6" lengthAdjust="spacingAndGlyphs">13</text>
<text x="508.8" y="351.2" font-size="6.2" fill="#333" font-family="Liberation Serif" textLength="9" lengthAdjust="spacingAndGlyphs">kOe</text>
<line x1="489.3" y1="355" x2="499" y2="355" stroke="#ff5f5f" stroke-width="1.4"/>
<text x="501.3" y="357.1" font-size="6.2" fill="#333" font-family="Liberation Serif" textLength="5.6" lengthAdjust="spacingAndGlyphs">14</text>
<text x="508.8" y="357.1" font-size="6.2" fill="#333" font-family="Liberation Serif" textLength="9" lengthAdjust="spacingAndGlyphs">kOe</text>
<line x1="489.3" y1="360.9" x2="499" y2="360.9" stroke="#ffaaaa" stroke-width="1.4"/>
<text x="501.3" y="363" font-size="6.2" fill="#333" font-family="Liberation Serif" textLength="5.6" lengthAdjust="spacingAndGlyphs">15</text>
<text x="508.8" y="363" font-size="6.2" fill="#333" font-family="Liberation Serif" textLength="9" lengthAdjust="spacingAndGlyphs">kOe</text>
<line x1="489.3" y1="366.8" x2="499" y2="366.8" stroke="#333333" stroke-width="1.4"/>
<text x="501.3" y="368.9" font-size="6.2" fill="#333" font-family="Liberation Serif" textLength="5.6" lengthAdjust="spacingAndGlyphs">16</text>
<text x="508.8" y="368.9" font-size="6.2" fill="#333" font-family="Liberation Serif" textLength="9" lengthAdjust="spacingAndGlyphs">kOe</text>
<line x1="489.3" y1="372.7" x2="499" y2="372.7" stroke="#88ddff" stroke-width="1.4"/>
<text x="501.3" y="374.8" font-size="6.2" fill="#333" font-family="Liberation Serif" textLength="5.6" lengthAdjust="spacingAndGlyphs">18</text>
<text x="508.8" y="374.8" font-size="6.2" fill="#333" font-family="Liberation Serif" textLength="9" lengthAdjust="spacingAndGlyphs">kOe</text>
<line x1="489.3" y1="378.6" x2="499" y2="378.6" stroke="#8888ff" stroke-width="1.4"/>
<text x="501.3" y="380.7" font-size="6.2" fill="#333" font-family="Liberation Serif" textLength="5.6" lengthAdjust="spacingAndGlyphs">20</text>
<text x="508.8" y="380.7" font-size="6.2" fill="#333" font-family="Liberation Serif" textLength="9" lengthAdjust="spacingAndGlyphs">kOe</text>
<text x="321.6" y="339" font-size="9.8" fill="#111" font-family="Liberation Serif" textLength="41" lengthAdjust="spacingAndGlyphs"><tspan font-style="italic">H</tspan> = 20 kOe</text>
<text x="423.2" y="437.6" font-size="9.5" fill="#333" font-family="Liberation Serif" textLength="19.7" lengthAdjust="spacingAndGlyphs"><tspan font-style="italic">H</tspan> = 0</text>
<line x1="435.6" y1="428.8" x2="351" y2="363.5" stroke="#1a4ef0" stroke-width="1.15"/>
<polygon points="345.6,359.4 354.8,363.5 351.5,366.8" fill="#1a4ef0"/>
<text x="0.4" y="9.8" font-size="14.8" text-anchor="start" fill="#111" font-family="Liberation Serif" >a</text>
<text x="280.5" y="9.9" font-size="14.5" text-anchor="start" fill="#111" font-family="Liberation Serif" >b</text>
<text x="0.4" y="267.6" font-size="15" text-anchor="start" fill="#111" font-family="Liberation Serif" >c</text>
<text x="280.3" y="267.5" font-size="14.2" text-anchor="start" fill="#111" font-family="Liberation Serif" >d</text>
<text x="151" y="230.3" font-size="12.5" text-anchor="middle" fill="#111" font-family="Liberation Serif"><tspan font-style="italic">T</tspan> (K)</text>
<text x="433" y="231.9" font-size="12.5" text-anchor="middle" fill="#111" font-family="Liberation Serif"><tspan font-style="italic">T</tspan> (K)</text>
<text x="154.5" y="485.8" font-size="12.5" text-anchor="middle" fill="#111" font-family="Liberation Serif">T (K)</text>
<text x="430.3" y="495" font-size="12.5" text-anchor="middle" fill="#111" font-family="Liberation Serif"><tspan font-style="italic">T</tspan> (K)</text>
<text transform="translate(11.3,109.5) rotate(-90)" text-anchor="middle" font-size="11.75" fill="#111" stroke="#111" stroke-width="0.15" font-family="Liberation Serif" style="white-space:pre"><tspan font-style="italic" font-size="13.5125">ρ</tspan><tspan font-style="italic" font-size="8.8125" dy="3">ab</tspan><tspan font-size="9.4" dy="-3"> (10</tspan><tspan font-size="7.05" dy="-5">−6</tspan><tspan dy="5">  Ωcm)</tspan></text>
<text transform="translate(288.8,111.9) rotate(-90)" text-anchor="middle" font-size="11.6" fill="#111" stroke="#111" stroke-width="0.15" font-family="Liberation Serif" style="white-space:pre"><tspan font-style="italic" font-size="13.339999999999998">ρ</tspan><tspan font-style="italic" font-size="8.7" dy="3">c</tspan><tspan font-size="9.28" dy="-3"> (10</tspan><tspan font-size="6.96" dy="-5">−3</tspan><tspan dy="5">  Ωcm)</tspan></text>
<text transform="translate(14,358.3) rotate(-90)" text-anchor="middle" font-size="12.4" fill="#111" stroke="#111" stroke-width="0.15" font-family="Liberation Serif" style="white-space:pre"><tspan font-style="italic" font-size="14.26">ρ</tspan><tspan font-style="italic" font-size="9.3" dy="3">ab</tspan><tspan font-size="9.920000000000002" dy="-3"> (10</tspan><tspan font-size="7.4399999999999995" dy="-5">−6</tspan><tspan dy="5">  Ωcm)</tspan></text>
<text transform="translate(290.2,355) rotate(-90)" text-anchor="middle" font-size="12.3" fill="#111" stroke="#111" stroke-width="0.15" font-family="Liberation Serif" style="white-space:pre"><tspan font-style="italic" font-size="14.145">ρ</tspan><tspan font-style="italic" font-size="9.225000000000001" dy="3">c</tspan><tspan font-size="9.840000000000002" dy="-3"> (10</tspan><tspan font-size="7.38" dy="-5">−6</tspan><tspan dy="5">  Ωcm)</tspan></text>
</svg></body></html>
